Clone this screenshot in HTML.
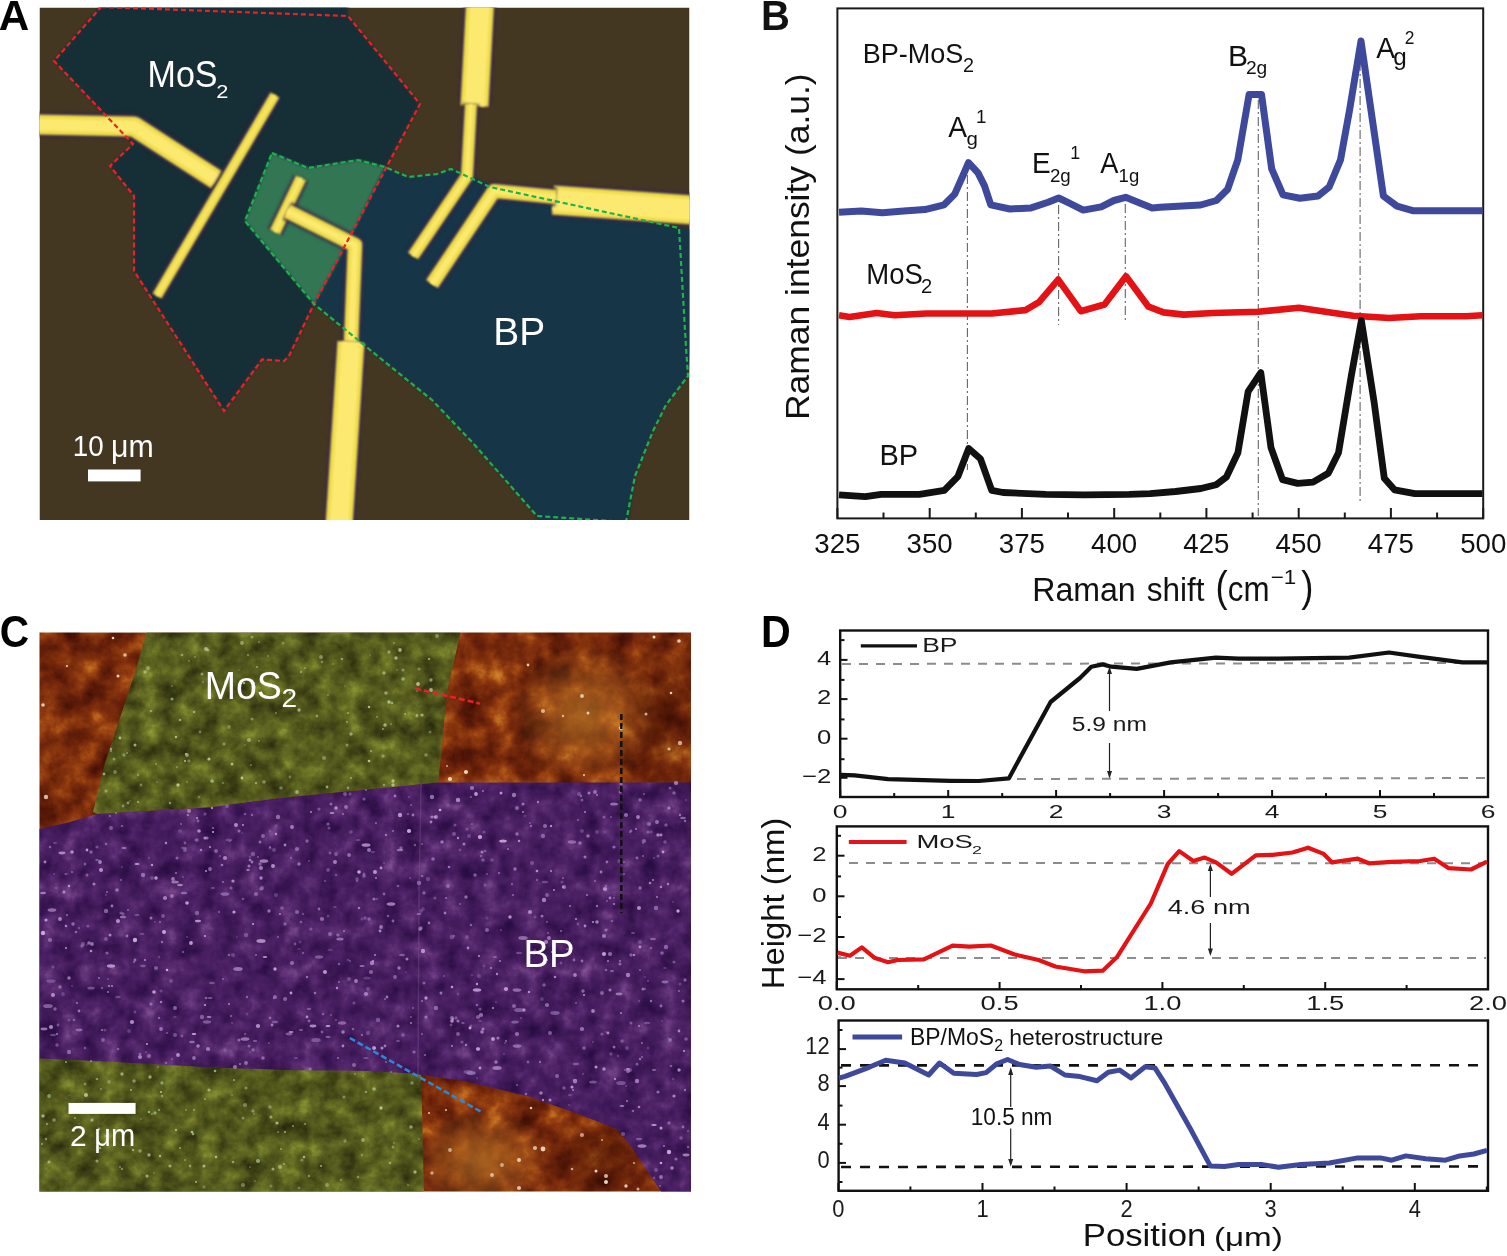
<!DOCTYPE html>
<html><head><meta charset="utf-8"><title>BP-MoS2 heterostructure figure</title>
<style>html,body{margin:0;padding:0;background:#fff;overflow:hidden;} svg{display:block;}</style></head>
<body><svg width="1507" height="1256" viewBox="0 0 1507 1256">
<defs><filter id="blur1" filterUnits="userSpaceOnUse" x="0" y="0" width="1507" height="1256"><feGaussianBlur stdDeviation="0.9"/></filter><filter id="blur2" filterUnits="userSpaceOnUse" x="0" y="0" width="1507" height="1256"><feGaussianBlur stdDeviation="1.8"/></filter><filter id="blurS" filterUnits="userSpaceOnUse" x="0" y="600" width="720" height="620"><feGaussianBlur stdDeviation="0.7"/></filter><filter id="texSub" filterUnits="userSpaceOnUse" x="0" y="600" width="720" height="620" color-interpolation-filters="sRGB"><feTurbulence type="fractalNoise" baseFrequency="0.035" numOctaves="5" seed="5"/><feColorMatrix type="matrix" values="1 0 0 0 0  1 0 0 0 0  1 0 0 0 0  0 0 0 0 1"/><feComponentTransfer><feFuncR type="table" tableValues="0.196 0.216 0.235 0.255 0.275 0.310 0.345 0.378 0.412 0.445 0.478 0.514 0.549 0.592 0.635 0.690 0.745 0.775 0.804 0.833 0.863"/><feFuncG type="table" tableValues="0.039 0.047 0.055 0.063 0.071 0.086 0.102 0.118 0.133 0.153 0.173 0.196 0.220 0.257 0.294 0.353 0.412 0.456 0.500 0.544 0.588"/><feFuncB type="table" tableValues="0.016 0.018 0.020 0.022 0.024 0.027 0.031 0.035 0.039 0.043 0.047 0.053 0.059 0.069 0.078 0.098 0.118 0.137 0.157 0.176 0.196"/></feComponentTransfer></filter><filter id="texMos" filterUnits="userSpaceOnUse" x="0" y="600" width="720" height="620" color-interpolation-filters="sRGB"><feTurbulence type="fractalNoise" baseFrequency="0.05" numOctaves="5" seed="11"/><feColorMatrix type="matrix" values="1 0 0 0 0  1 0 0 0 0  1 0 0 0 0  0 0 0 0 1"/><feComponentTransfer><feFuncR type="table" tableValues="0.118 0.137 0.157 0.176 0.196 0.220 0.243 0.265 0.286 0.308 0.329 0.351 0.373 0.398 0.424 0.457 0.490 0.525 0.559 0.593 0.627"/><feFuncG type="table" tableValues="0.125 0.147 0.169 0.190 0.212 0.235 0.259 0.282 0.306 0.329 0.353 0.376 0.400 0.427 0.455 0.492 0.529 0.569 0.608 0.647 0.686"/><feFuncB type="table" tableValues="0.039 0.046 0.053 0.060 0.067 0.075 0.082 0.090 0.098 0.106 0.114 0.122 0.129 0.139 0.149 0.163 0.176 0.196 0.216 0.235 0.255"/></feComponentTransfer></filter><filter id="texBP" filterUnits="userSpaceOnUse" x="0" y="600" width="720" height="620" color-interpolation-filters="sRGB"><feTurbulence type="fractalNoise" baseFrequency="0.05" numOctaves="5" seed="17"/><feColorMatrix type="matrix" values="1 0 0 0 0  1 0 0 0 0  1 0 0 0 0  0 0 0 0 1"/><feComponentTransfer><feFuncR type="table" tableValues="0.133 0.147 0.161 0.175 0.188 0.204 0.220 0.235 0.251 0.267 0.282 0.300 0.318 0.339 0.361 0.390 0.420 0.452 0.484 0.517 0.549"/><feFuncG type="table" tableValues="0.039 0.045 0.051 0.057 0.063 0.073 0.082 0.092 0.102 0.112 0.122 0.133 0.145 0.163 0.180 0.208 0.235 0.270 0.304 0.338 0.373"/><feFuncB type="table" tableValues="0.235 0.248 0.261 0.274 0.286 0.302 0.318 0.333 0.349 0.365 0.380 0.396 0.412 0.431 0.451 0.476 0.502 0.533 0.565 0.596 0.627"/></feComponentTransfer></filter></defs>
<clipPath id="clipA"><rect x="39.5" y="7.5" width="650" height="512.5"/></clipPath>
<g clip-path="url(#clipA)">
<rect x="39.5" y="7.5" width="650" height="512.5" fill="#443722"/>
<polygon points="101.0,5.0 348.0,5.0 348.0,16.0 420.0,104.0 376.0,185.0 333.0,270.0 314.0,304.0 289.0,356.0 284.0,361.0 262.0,359.0 224.0,411.0 134.0,271.0 134.0,196.0 110.0,166.0 133.0,144.0 54.0,61.0" fill="#192f34" filter="url(#blur2)"/>
<polygon points="272.0,153.0 308.0,168.0 358.0,160.0 385.0,167.0 408.0,177.0 437.0,174.0 451.0,169.0 493.0,185.0 540.0,196.0 679.0,228.0 692.0,228.0 692.0,347.0 688.0,376.0 666.0,405.0 653.0,431.0 635.0,476.0 628.0,524.0 537.0,524.0 537.0,516.0 472.0,442.0 432.0,400.0 380.0,358.0 314.0,304.0 245.0,221.0" fill="#183446" filter="url(#blur2)"/>
<polygon points="272.0,153.0 308.0,168.0 358.0,160.0 385.0,167.0 376.0,185.0 350.0,238.0 333.0,270.0 314.0,304.0 245.0,221.0" fill="#327652" filter="url(#blur2)"/>
<polyline points="36.0,124.5 134.0,126.5 217.0,180.0" fill="none" stroke="#382850" stroke-width="25" stroke-linejoin="round" opacity="0.85" filter="url(#blur2)"/><polyline points="36.0,124.5 134.0,126.5 217.0,180.0" fill="none" stroke="#eedc48" stroke-width="20" stroke-linejoin="round" filter="url(#blur1)"/><polyline points="36.0,124.5 134.0,126.5 217.0,180.0" fill="none" stroke="#fce970" stroke-width="12" stroke-linejoin="round" filter="url(#blur1)"/>
<polyline points="275.0,95.0 157.0,296.0" fill="none" stroke="#382850" stroke-width="15" stroke-linejoin="round" opacity="0.85" filter="url(#blur2)"/><polyline points="275.0,95.0 157.0,296.0" fill="none" stroke="#eedc48" stroke-width="10" stroke-linejoin="round" filter="url(#blur1)"/><polyline points="275.0,95.0 157.0,296.0" fill="none" stroke="#fce970" stroke-width="2" stroke-linejoin="round" filter="url(#blur1)"/>
<polyline points="480.0,4.0 474.5,106.0" fill="none" stroke="#382850" stroke-width="33" stroke-linejoin="round" opacity="0.85" filter="url(#blur2)"/><polyline points="480.0,4.0 474.5,106.0" fill="none" stroke="#eedc48" stroke-width="28" stroke-linejoin="round" filter="url(#blur1)"/><polyline points="480.0,4.0 474.5,106.0" fill="none" stroke="#fce970" stroke-width="20" stroke-linejoin="round" filter="url(#blur1)"/>
<polyline points="471.0,104.0 467.0,176.0 413.0,256.0" fill="none" stroke="#382850" stroke-width="17" stroke-linejoin="round" opacity="0.85" filter="url(#blur2)"/><polyline points="471.0,104.0 467.0,176.0 413.0,256.0" fill="none" stroke="#eedc48" stroke-width="12" stroke-linejoin="round" filter="url(#blur1)"/><polyline points="471.0,104.0 467.0,176.0 413.0,256.0" fill="none" stroke="#fce970" stroke-width="4" stroke-linejoin="round" filter="url(#blur1)"/>
<polyline points="553.0,200.0 694.0,210.0" fill="none" stroke="#382850" stroke-width="34" stroke-linejoin="round" opacity="0.85" filter="url(#blur2)"/><polyline points="553.0,200.0 694.0,210.0" fill="none" stroke="#eedc48" stroke-width="29" stroke-linejoin="round" filter="url(#blur1)"/><polyline points="553.0,200.0 694.0,210.0" fill="none" stroke="#fce970" stroke-width="21" stroke-linejoin="round" filter="url(#blur1)"/>
<polyline points="556.0,197.0 494.0,191.0 432.0,284.0" fill="none" stroke="#382850" stroke-width="19" stroke-linejoin="round" opacity="0.85" filter="url(#blur2)"/><polyline points="556.0,197.0 494.0,191.0 432.0,284.0" fill="none" stroke="#eedc48" stroke-width="14" stroke-linejoin="round" filter="url(#blur1)"/><polyline points="556.0,197.0 494.0,191.0 432.0,284.0" fill="none" stroke="#fce970" stroke-width="6" stroke-linejoin="round" filter="url(#blur1)"/>
<polyline points="301.0,178.0 275.0,232.0" fill="none" stroke="#382850" stroke-width="16" stroke-linejoin="round" opacity="0.85" filter="url(#blur2)"/><polyline points="301.0,178.0 275.0,232.0" fill="none" stroke="#eedc48" stroke-width="11" stroke-linejoin="round" filter="url(#blur1)"/><polyline points="301.0,178.0 275.0,232.0" fill="none" stroke="#fce970" stroke-width="3" stroke-linejoin="round" filter="url(#blur1)"/>
<polyline points="287.0,211.0 355.0,245.0 351.0,344.0" fill="none" stroke="#382850" stroke-width="19.5" stroke-linejoin="round" opacity="0.85" filter="url(#blur2)"/><polyline points="287.0,211.0 355.0,245.0 351.0,344.0" fill="none" stroke="#eedc48" stroke-width="14.5" stroke-linejoin="round" filter="url(#blur1)"/><polyline points="287.0,211.0 355.0,245.0 351.0,344.0" fill="none" stroke="#fce970" stroke-width="6.5" stroke-linejoin="round" filter="url(#blur1)"/>
<polyline points="351.0,342.0 339.0,526.0" fill="none" stroke="#382850" stroke-width="32" stroke-linejoin="round" opacity="0.85" filter="url(#blur2)"/><polyline points="351.0,342.0 339.0,526.0" fill="none" stroke="#eedc48" stroke-width="27" stroke-linejoin="round" filter="url(#blur1)"/><polyline points="351.0,342.0 339.0,526.0" fill="none" stroke="#fce970" stroke-width="19" stroke-linejoin="round" filter="url(#blur1)"/>
<polyline points="101.0,7.0 348.0,16.0 420.0,104.0 314.0,304.0 289.0,356.0 284.0,361.0 262.0,359.5 224.0,411.0 134.0,271.0 134.0,196.0 110.0,166.0 133.0,144.0 54.0,61.0 101.0,7.0" fill="none" stroke="#ee1f26" stroke-width="2.2" stroke-dasharray="5,3"/>
<polyline points="272.0,153.0 308.0,168.0 358.0,160.0 385.0,167.0 408.0,177.0 437.0,174.0 451.0,169.0 490.0,187.0 679.0,228.0 686.0,347.0 688.0,376.0 666.0,405.0 653.0,431.0 635.0,476.0 626.0,522.0 537.0,516.0 472.0,442.0 432.0,400.0 380.0,358.0 314.0,304.0 245.0,221.0 272.0,153.0" fill="none" stroke="#1db24a" stroke-width="2.2" stroke-dasharray="5,3"/>
</g>
<text transform="matrix(0.3404,0.0000,0.0000,0.3648,147.58,87.14)" font-family="'Liberation Sans', Arial, sans-serif" font-size="100" fill="#fff">MoS</text>
<text transform="matrix(0.2174,0.0000,0.0000,0.1743,216.21,98.10)" font-family="'Liberation Sans', Arial, sans-serif" font-size="100" fill="#fff">2</text>
<text transform="matrix(0.3892,0.0000,0.0000,0.3928,493.29,344.80)" font-family="'Liberation Sans', Arial, sans-serif" font-size="100" fill="#fff">BP</text>
<text transform="matrix(0.2778,0.0000,0.0000,0.2901,72.78,455.61)" font-family="'Liberation Sans', Arial, sans-serif" font-size="100" fill="#fff">10</text>
<text transform="matrix(0.3031,0.0000,0.0000,0.3096,110.98,456.62)" font-family="'Liberation Sans', Arial, sans-serif" font-size="100" fill="#fff">μm</text>
<rect x="88" y="469.5" width="52.6" height="11.9" fill="#fff"/>
<text transform="matrix(0.4227,0.0000,0.0000,0.4309,-1.27,30.03)" font-family="'Liberation Sans', Arial, sans-serif" font-weight="bold" font-size="100" fill="#000">A</text>
<rect x="837.4" y="8.4" width="645.8" height="510" fill="none" stroke="#1a1a1a" stroke-width="2"/>
<line x1="837.4" y1="518.4" x2="837.4" y2="508" stroke="#1a1a1a" stroke-width="2"/>
<text transform="matrix(0.2767,0,0,0.2690,837.40,553.13)" font-family="'Liberation Sans', Arial, sans-serif" font-size="100" text-anchor="middle" fill="#111">325</text>
<line x1="929.7" y1="518.4" x2="929.7" y2="508" stroke="#1a1a1a" stroke-width="2"/>
<text transform="matrix(0.2767,0,0,0.2690,929.66,553.13)" font-family="'Liberation Sans', Arial, sans-serif" font-size="100" text-anchor="middle" fill="#111">350</text>
<line x1="1021.9" y1="518.4" x2="1021.9" y2="508" stroke="#1a1a1a" stroke-width="2"/>
<text transform="matrix(0.2767,0,0,0.2690,1021.91,553.13)" font-family="'Liberation Sans', Arial, sans-serif" font-size="100" text-anchor="middle" fill="#111">375</text>
<line x1="1114.2" y1="518.4" x2="1114.2" y2="508" stroke="#1a1a1a" stroke-width="2"/>
<text transform="matrix(0.2767,0,0,0.2690,1114.17,553.13)" font-family="'Liberation Sans', Arial, sans-serif" font-size="100" text-anchor="middle" fill="#111">400</text>
<line x1="1206.4" y1="518.4" x2="1206.4" y2="508" stroke="#1a1a1a" stroke-width="2"/>
<text transform="matrix(0.2767,0,0,0.2690,1206.43,553.13)" font-family="'Liberation Sans', Arial, sans-serif" font-size="100" text-anchor="middle" fill="#111">425</text>
<line x1="1298.7" y1="518.4" x2="1298.7" y2="508" stroke="#1a1a1a" stroke-width="2"/>
<text transform="matrix(0.2767,0,0,0.2690,1298.69,553.13)" font-family="'Liberation Sans', Arial, sans-serif" font-size="100" text-anchor="middle" fill="#111">450</text>
<line x1="1390.9" y1="518.4" x2="1390.9" y2="508" stroke="#1a1a1a" stroke-width="2"/>
<text transform="matrix(0.2767,0,0,0.2690,1390.94,553.13)" font-family="'Liberation Sans', Arial, sans-serif" font-size="100" text-anchor="middle" fill="#111">475</text>
<line x1="1483.2" y1="518.4" x2="1483.2" y2="508" stroke="#1a1a1a" stroke-width="2"/>
<text transform="matrix(0.2767,0,0,0.2690,1483.20,553.13)" font-family="'Liberation Sans', Arial, sans-serif" font-size="100" text-anchor="middle" fill="#111">500</text>
<line x1="883.5" y1="518.4" x2="883.5" y2="512.5" stroke="#1a1a1a" stroke-width="2"/>
<line x1="975.8" y1="518.4" x2="975.8" y2="512.5" stroke="#1a1a1a" stroke-width="2"/>
<line x1="1068.0" y1="518.4" x2="1068.0" y2="512.5" stroke="#1a1a1a" stroke-width="2"/>
<line x1="1160.3" y1="518.4" x2="1160.3" y2="512.5" stroke="#1a1a1a" stroke-width="2"/>
<line x1="1252.6" y1="518.4" x2="1252.6" y2="512.5" stroke="#1a1a1a" stroke-width="2"/>
<line x1="1344.8" y1="518.4" x2="1344.8" y2="512.5" stroke="#1a1a1a" stroke-width="2"/>
<line x1="1437.1" y1="518.4" x2="1437.1" y2="512.5" stroke="#1a1a1a" stroke-width="2"/>
<line x1="967.4" y1="175" x2="967.4" y2="470" stroke="#666" stroke-width="1.1" stroke-dasharray="9,3,2,3"/>
<line x1="1058.6" y1="205" x2="1058.6" y2="325" stroke="#666" stroke-width="1.1" stroke-dasharray="9,3,2,3"/>
<line x1="1125.3" y1="204" x2="1125.3" y2="321" stroke="#666" stroke-width="1.1" stroke-dasharray="9,3,2,3"/>
<line x1="1258.3" y1="100" x2="1258.3" y2="516" stroke="#666" stroke-width="1.1" stroke-dasharray="9,3,2,3"/>
<line x1="1360.1" y1="45" x2="1360.1" y2="504" stroke="#666" stroke-width="1.1" stroke-dasharray="9,3,2,3"/>
<polyline points="839.0,315.3 849.5,316.9 876.6,313.0 894.7,315.3 926.3,313.5 991.7,313.5 1025.5,310.1 1039.0,302.2 1058.2,279.6 1080.8,311.2 1104.5,304.5 1126.0,276.3 1148.5,306.7 1163.5,312.4 1183.8,314.6 1213.2,313.0 1258.3,311.7 1298.9,307.8 1330.5,312.4 1353.1,315.7 1389.2,318.0 1420.8,316.2 1465.9,316.2 1482.5,315.3" fill="none" stroke="#e41214" stroke-width="6.6" stroke-linejoin="round"/>
<polyline points="839.0,494.8 865.3,496.6 881.1,494.3 919.5,494.3 944.3,490.3 957.8,476.7 968.7,448.5 980.4,458.7 991.7,490.3 1003.0,492.5 1045.8,494.3 1084.2,494.8 1129.3,494.3 1150.0,493.6 1175.5,491.5 1200.9,488.5 1216.2,484.7 1226.4,477.0 1237.9,452.8 1248.1,391.7 1260.8,372.6 1271.0,447.7 1282.5,479.6 1297.7,483.4 1313.0,482.1 1328.3,473.2 1338.5,452.8 1351.2,376.4 1361.4,320.4 1374.1,401.9 1384.3,478.3 1394.5,489.8 1414.9,493.6 1482.5,493.6" fill="none" stroke="#111" stroke-width="6.8" stroke-linejoin="round"/>
<polyline points="839.0,212.2 861.2,211.1 882.5,212.8 903.7,211.1 924.9,209.6 944.1,204.8 954.7,194.1 963.2,175.0 968.5,162.7 978.0,172.9 984.4,185.6 990.8,204.8 1009.9,209.0 1031.1,207.9 1048.1,202.2 1058.7,198.0 1069.3,203.1 1083.2,210.1 1101.2,206.9 1113.9,200.5 1125.6,197.3 1141.6,203.7 1152.2,207.9 1160.0,207.3 1200.6,205.0 1216.4,200.5 1227.7,189.2 1237.8,159.9 1249.1,94.5 1261.5,94.5 1271.7,168.9 1283.0,194.9 1299.9,198.2 1318.0,196.0 1329.2,187.0 1340.5,159.9 1349.5,110.3 1361.0,41.0 1371.0,110.3 1383.4,196.0 1397.0,206.1 1412.7,210.7 1482.5,210.7" fill="none" stroke="#3e499c" stroke-width="7" stroke-linejoin="round"/>
<text transform="matrix(0.2708,0.0000,0.0000,0.2845,862.63,62.52)" font-family="'Liberation Sans', Arial, sans-serif" font-size="100" fill="#111">BP-MoS</text>
<text transform="matrix(0.1978,0.0000,0.0000,0.1929,962.91,71.60)" font-family="'Liberation Sans', Arial, sans-serif" font-size="100" fill="#111">2</text>
<text transform="matrix(0.2818,0.0000,0.0000,0.2884,948.30,136.80)" font-family="'Liberation Sans', Arial, sans-serif" font-size="100" fill="#111">A</text>
<text transform="matrix(0.2044,0.0000,0.0000,0.1784,966.38,145.35)" font-family="'Liberation Sans', Arial, sans-serif" font-size="100" fill="#111">g</text>
<text transform="matrix(0.2796,0.0000,0.0000,0.2942,1031.96,173.00)" font-family="'Liberation Sans', Arial, sans-serif" font-size="100" fill="#111">E</text>
<text transform="matrix(0.1870,0.0000,0.0000,0.1879,1049.97,181.85)" font-family="'Liberation Sans', Arial, sans-serif" font-size="100" fill="#111">2g</text>
<text transform="matrix(0.2727,0.0000,0.0000,0.2884,1100.20,173.00)" font-family="'Liberation Sans', Arial, sans-serif" font-size="100" fill="#111">A</text>
<text transform="matrix(0.1856,0.0000,0.0000,0.1811,1118.62,182.00)" font-family="'Liberation Sans', Arial, sans-serif" font-size="100" fill="#111">1g</text>
<text transform="matrix(0.3000,0.0000,0.0000,0.2884,1227.90,65.50)" font-family="'Liberation Sans', Arial, sans-serif" font-size="100" fill="#111">B</text>
<text transform="matrix(0.1920,0.0000,0.0000,0.1901,1245.94,74.11)" font-family="'Liberation Sans', Arial, sans-serif" font-size="100" fill="#111">2g</text>
<text transform="matrix(0.2818,0.0000,0.0000,0.2884,1376.30,57.50)" font-family="'Liberation Sans', Arial, sans-serif" font-size="100" fill="#111">A</text>
<text transform="matrix(0.1739,0.0000,0.0000,0.1800,1404.63,44.20)" font-family="'Liberation Sans', Arial, sans-serif" font-size="100" fill="#111">2</text>
<text transform="matrix(0.2751,0.0000,0.0000,0.2873,866.30,283.61)" font-family="'Liberation Sans', Arial, sans-serif" font-size="100" fill="#111">MoS</text>
<text transform="matrix(0.2022,0.0000,0.0000,0.2000,921.09,293.20)" font-family="'Liberation Sans', Arial, sans-serif" font-size="100" fill="#111">2</text>
<text transform="matrix(0.2900,0.0000,0.0000,0.2971,879.48,464.50)" font-family="'Liberation Sans', Arial, sans-serif" font-size="100" fill="#111">BP</text>
<text transform="matrix(0.3211,0.0000,0.0000,0.3243,1032.23,600.98)" font-family="'Liberation Sans', Arial, sans-serif" font-size="100" fill="#111">Raman</text>
<text transform="matrix(0.3150,0.0000,0.0000,0.3284,1146.76,600.97)" font-family="'Liberation Sans', Arial, sans-serif" font-size="100" fill="#111">shift</text>
<text transform="matrix(0.3654,0.0000,0.0000,0.4234,1215.41,600.91)" font-family="'Liberation Sans', Arial, sans-serif" font-size="100" fill="#111">(</text>
<text transform="matrix(0.3130,0.0000,0.0000,0.3509,1227.75,600.95)" font-family="'Liberation Sans', Arial, sans-serif" font-size="100" fill="#111">cm</text>
<text transform="matrix(0.2240,0.0000,0.0000,0.2014,1270.78,583.90)" font-family="'Liberation Sans', Arial, sans-serif" font-size="100" fill="#111">−1</text>
<text transform="matrix(0.3654,0.0000,0.0000,0.4234,1301.13,600.91)" font-family="'Liberation Sans', Arial, sans-serif" font-size="100" fill="#111">)</text>
<text transform="matrix(0.0000,-0.3544,0.3319,0.0000,808.73,420.03)" font-family="'Liberation Sans', Arial, sans-serif" font-size="100" fill="#111">Raman intensity (a.u.)</text>
<text transform="matrix(0.4000,0.0000,0.0000,0.4246,761.10,29.60)" font-family="'Liberation Sans', Arial, sans-serif" font-weight="bold" font-size="100" fill="#111">B</text>
<text transform="matrix(0.1870,0.0000,0.0000,0.1870,975.88,122.80)" font-family="'Liberation Sans', Arial, sans-serif" font-size="100" fill="#111">1</text>
<text transform="matrix(0.1783,0.0000,0.0000,0.1783,1070.14,159.10)" font-family="'Liberation Sans', Arial, sans-serif" font-size="100" fill="#111">1</text>
<text transform="matrix(0.2419,0.0000,0.0000,0.2419,1393.14,65.02)" font-family="'Liberation Sans', Arial, sans-serif" font-size="100" fill="#111">g</text>
<clipPath id="clipC"><rect x="39.5" y="632.5" width="651.5" height="559"/></clipPath>
<g clip-path="url(#clipC)">
<rect x="39.5" y="632.5" width="651.5" height="559" fill="#7a2e10" filter="url(#texSub)"/>
<radialGradient id="glow1"><stop offset="0" stop-color="#d09030" stop-opacity="0.55"/><stop offset="1" stop-color="#d09030" stop-opacity="0"/></radialGradient>
<radialGradient id="dark1"><stop offset="0" stop-color="#300800" stop-opacity="0.45"/><stop offset="1" stop-color="#300800" stop-opacity="0"/></radialGradient>
<ellipse cx="585" cy="715" rx="75" ry="70" fill="url(#glow1)"/>
<ellipse cx="480" cy="1160" rx="70" ry="55" fill="url(#glow1)"/>
<ellipse cx="660" cy="720" rx="40" ry="80" fill="url(#dark1)"/>
<ellipse cx="600" cy="1160" rx="50" ry="40" fill="url(#dark1)"/>
<clipPath id="cMos"><polygon points="147.3,630.0 461.0,630.0 447.5,689.7 442.9,736.1 438.2,782.6 370.0,789.2 278.2,798.2 210.5,807.3 97.7,814.0 93.0,812.0 104.5,764.4 120.3,717.0 136.0,669.6"/><polygon points="36.0,1058.0 421.0,1070.0 424.0,1195.0 36.0,1195.0"/></clipPath>
<g clip-path="url(#cMos)"><rect x="39.5" y="632.5" width="651.5" height="559" fill="#50551e" filter="url(#texMos)"/></g>
<clipPath id="cBP"><polygon points="36.0,829.8 66.1,823.0 97.7,814.0 210.5,807.3 278.2,798.2 370.0,789.2 438.2,782.6 695.0,782.6 695.0,1195.0 663.3,1195.0 630.2,1144.9 617.4,1129.6 579.2,1114.3 528.3,1096.5 464.6,1081.2 411.1,1073.6 370.0,1071.1 284.8,1069.9 208.4,1067.3 106.5,1061.4 36.0,1058.4"/></clipPath>
<g clip-path="url(#cBP)"><rect x="39.5" y="632.5" width="651.5" height="559" fill="#4a2a78" filter="url(#texBP)"/></g>
<g filter="url(#blurS)"><circle cx="252" cy="719" r="1.5" fill="#d0e0b0" opacity="0.44"/><circle cx="419" cy="1139" r="1.0" fill="#a8c890" opacity="0.43"/><circle cx="101" cy="870" r="2.0" fill="#c8a0dc" opacity="0.87"/><circle cx="419" cy="669" r="1.5" fill="#c0d8a0" opacity="0.42"/><circle cx="597" cy="795" r="1.0" fill="#c8a0dc" opacity="0.69"/><circle cx="105" cy="1030" r="1.6" fill="#9070b0" opacity="0.50"/><circle cx="319" cy="809" r="1.6" fill="#a080c0" opacity="0.58"/><circle cx="158" cy="1067" r="0.8" fill="#a8c890" opacity="0.75"/><circle cx="514" cy="795" r="2.2" fill="#c8a0dc" opacity="0.66"/><circle cx="92" cy="944" r="1.9" fill="#d8b8e8" opacity="0.57"/><circle cx="363" cy="1076" r="0.8" fill="#a8c890" opacity="0.59"/><circle cx="685" cy="1090" r="1.2" fill="#a080c0" opacity="0.84"/><circle cx="651" cy="832" r="1.7" fill="#a080c0" opacity="0.43"/><circle cx="94" cy="884" r="1.6" fill="#b890d0" opacity="0.81"/><circle cx="222" cy="865" r="1.3" fill="#a080c0" opacity="0.88"/><circle cx="156" cy="764" r="1.0" fill="#d0e0b0" opacity="0.47"/><circle cx="466" cy="1045" r="1.4" fill="#9070b0" opacity="0.60"/><circle cx="109" cy="986" r="0.9" fill="#c8a0dc" opacity="0.89"/><ellipse cx="113" cy="968" rx="2.1" ry="0.8" fill="#9070b0" opacity="0.48"/><circle cx="138" cy="775" r="1.2" fill="#c0d8a0" opacity="0.45"/><circle cx="358" cy="1177" r="1.3" fill="#c0d8a0" opacity="0.44"/><circle cx="264" cy="782" r="1.8" fill="#c0d8a0" opacity="0.48"/><circle cx="658" cy="835" r="1.8" fill="#c8a0dc" opacity="0.78"/><circle cx="630" cy="832" r="1.1" fill="#9070b0" opacity="0.79"/><circle cx="564" cy="1088" r="1.8" fill="#b890d0" opacity="0.50"/><circle cx="167" cy="970" r="1.3" fill="#d8b8e8" opacity="0.88"/><circle cx="185" cy="761" r="1.0" fill="#d0e0b0" opacity="0.79"/><circle cx="437" cy="636" r="1.9" fill="#d0e0b0" opacity="0.43"/><circle cx="351" cy="734" r="1.7" fill="#d0e0b0" opacity="0.56"/><circle cx="302" cy="1160" r="1.6" fill="#c0d8a0" opacity="0.41"/><circle cx="424" cy="893" r="1.7" fill="#9070b0" opacity="0.81"/><circle cx="467" cy="829" r="1.6" fill="#b890d0" opacity="0.41"/><circle cx="680" cy="743" r="2.2" fill="#f8e8d0" opacity="0.67"/><ellipse cx="366" cy="1058" rx="2.8" ry="1.1" fill="#9070b0" opacity="0.61"/><circle cx="631" cy="831" r="1.4" fill="#9070b0" opacity="0.81"/><circle cx="354" cy="1065" r="2.0" fill="#c8a0dc" opacity="0.52"/><circle cx="542" cy="916" r="1.6" fill="#c8a0dc" opacity="0.62"/><circle cx="369" cy="919" r="1.8" fill="#a080c0" opacity="0.65"/><ellipse cx="642" cy="1146" rx="4.5" ry="1.8" fill="#b890d0" opacity="0.82"/><circle cx="121" cy="880" r="0.9" fill="#b890d0" opacity="0.61"/><circle cx="458" cy="838" r="1.2" fill="#b890d0" opacity="0.88"/><circle cx="658" cy="856" r="1.5" fill="#b890d0" opacity="0.48"/><circle cx="376" cy="823" r="1.1" fill="#d8b8e8" opacity="0.45"/><circle cx="261" cy="889" r="1.8" fill="#a080c0" opacity="0.57"/><circle cx="671" cy="693" r="1.3" fill="#f8e8d0" opacity="0.87"/><circle cx="411" cy="1023" r="0.9" fill="#c8a0dc" opacity="0.80"/><ellipse cx="621" cy="784" rx="1.8" ry="0.7" fill="#c8a0dc" opacity="0.80"/><ellipse cx="261" cy="941" rx="4.6" ry="1.9" fill="#d8b8e8" opacity="0.71"/><ellipse cx="175" cy="882" rx="3.8" ry="1.6" fill="#d8b8e8" opacity="0.57"/><circle cx="165" cy="898" r="2.1" fill="#c8a0dc" opacity="0.73"/><circle cx="467" cy="937" r="2.0" fill="#9070b0" opacity="0.55"/><ellipse cx="51" cy="981" rx="4.5" ry="1.8" fill="#a080c0" opacity="0.48"/><circle cx="199" cy="797" r="1.3" fill="#a8c890" opacity="0.40"/><circle cx="278" cy="817" r="2.2" fill="#d8b8e8" opacity="0.52"/><circle cx="242" cy="833" r="0.8" fill="#a080c0" opacity="0.44"/><circle cx="466" cy="772" r="2.1" fill="#f8e8d0" opacity="0.89"/><circle cx="135" cy="960" r="1.4" fill="#d8b8e8" opacity="0.55"/><circle cx="421" cy="928" r="1.9" fill="#9070b0" opacity="0.59"/><circle cx="517" cy="1085" r="1.0" fill="#9070b0" opacity="0.78"/><circle cx="502" cy="1165" r="1.9" fill="#f8e8d0" opacity="0.61"/><ellipse cx="213" cy="888" rx="2.0" ry="0.8" fill="#9070b0" opacity="0.85"/><circle cx="382" cy="1048" r="1.5" fill="#c8a0dc" opacity="0.82"/><circle cx="72" cy="986" r="1.1" fill="#9070b0" opacity="0.47"/><circle cx="523" cy="804" r="1.6" fill="#c8a0dc" opacity="0.64"/><circle cx="501" cy="793" r="1.5" fill="#c8a0dc" opacity="0.90"/><circle cx="244" cy="683" r="1.3" fill="#c0d8a0" opacity="0.73"/><circle cx="668" cy="884" r="1.2" fill="#b890d0" opacity="0.86"/><circle cx="275" cy="969" r="1.7" fill="#d8b8e8" opacity="0.84"/><circle cx="192" cy="1132" r="1.3" fill="#c0d8a0" opacity="0.78"/><circle cx="483" cy="860" r="1.8" fill="#a080c0" opacity="0.57"/><circle cx="230" cy="841" r="1.4" fill="#9070b0" opacity="0.44"/><circle cx="531" cy="1108" r="1.3" fill="#f8e8d0" opacity="0.83"/><circle cx="246" cy="1063" r="1.9" fill="#a080c0" opacity="0.84"/><circle cx="529" cy="992" r="1.2" fill="#c8a0dc" opacity="0.86"/><circle cx="152" cy="865" r="1.2" fill="#d8b8e8" opacity="0.77"/><ellipse cx="210" cy="998" rx="2.7" ry="1.1" fill="#9070b0" opacity="0.73"/><circle cx="398" cy="886" r="1.3" fill="#a080c0" opacity="0.61"/><circle cx="200" cy="732" r="1.4" fill="#a8c890" opacity="0.50"/><circle cx="411" cy="1127" r="1.7" fill="#a8c890" opacity="0.70"/><circle cx="178" cy="785" r="1.7" fill="#d0e0b0" opacity="0.79"/><circle cx="123" cy="914" r="1.7" fill="#b890d0" opacity="0.45"/><circle cx="291" cy="993" r="1.4" fill="#d8b8e8" opacity="0.82"/><circle cx="348" cy="960" r="0.8" fill="#a080c0" opacity="0.87"/><circle cx="384" cy="894" r="1.4" fill="#c8a0dc" opacity="0.51"/><circle cx="43" cy="705" r="1.8" fill="#f8e8d0" opacity="0.85"/><ellipse cx="665" cy="982" rx="3.4" ry="1.4" fill="#a080c0" opacity="0.75"/><circle cx="88" cy="926" r="1.6" fill="#a080c0" opacity="0.53"/><circle cx="43" cy="933" r="2.2" fill="#d8b8e8" opacity="0.88"/><circle cx="614" cy="898" r="1.1" fill="#b890d0" opacity="0.41"/><circle cx="282" cy="908" r="1.8" fill="#a080c0" opacity="0.58"/><circle cx="46" cy="797" r="2.2" fill="#f8e8d0" opacity="0.77"/><circle cx="172" cy="1059" r="1.1" fill="#a080c0" opacity="0.51"/><circle cx="233" cy="1162" r="1.3" fill="#c0d8a0" opacity="0.59"/><circle cx="245" cy="698" r="0.8" fill="#c0d8a0" opacity="0.47"/><circle cx="648" cy="1048" r="0.8" fill="#a080c0" opacity="0.82"/><circle cx="328" cy="695" r="0.8" fill="#a8c890" opacity="0.78"/><circle cx="122" cy="1169" r="1.0" fill="#a8c890" opacity="0.73"/><circle cx="322" cy="662" r="1.3" fill="#a8c890" opacity="0.48"/><circle cx="278" cy="1132" r="0.8" fill="#d0e0b0" opacity="0.71"/><circle cx="208" cy="1049" r="2.1" fill="#d8b8e8" opacity="0.58"/><circle cx="640" cy="800" r="1.8" fill="#9070b0" opacity="0.86"/><circle cx="661" cy="1163" r="1.3" fill="#d8b8e8" opacity="0.86"/><circle cx="128" cy="910" r="0.8" fill="#d8b8e8" opacity="0.81"/><circle cx="435" cy="817" r="1.2" fill="#d8b8e8" opacity="0.79"/><ellipse cx="373" cy="852" rx="2.3" ry="0.9" fill="#a080c0" opacity="0.43"/><circle cx="400" cy="815" r="2.2" fill="#c8a0dc" opacity="0.89"/><circle cx="478" cy="1049" r="2.0" fill="#c8a0dc" opacity="0.79"/><circle cx="223" cy="783" r="1.0" fill="#a8c890" opacity="0.50"/><circle cx="253" cy="854" r="2.2" fill="#9070b0" opacity="0.66"/><circle cx="107" cy="892" r="0.9" fill="#c8a0dc" opacity="0.64"/><circle cx="644" cy="841" r="2.0" fill="#a080c0" opacity="0.70"/><circle cx="268" cy="656" r="1.1" fill="#a8c890" opacity="0.42"/><circle cx="307" cy="841" r="1.7" fill="#c8a0dc" opacity="0.50"/><circle cx="397" cy="670" r="0.8" fill="#d0e0b0" opacity="0.46"/><circle cx="387" cy="997" r="1.4" fill="#d8b8e8" opacity="0.60"/><circle cx="273" cy="866" r="2.0" fill="#d8b8e8" opacity="0.72"/><circle cx="304" cy="1157" r="1.3" fill="#c0d8a0" opacity="0.73"/><circle cx="305" cy="1124" r="1.3" fill="#c0d8a0" opacity="0.42"/><circle cx="642" cy="1043" r="1.0" fill="#d8b8e8" opacity="0.54"/><circle cx="673" cy="902" r="0.9" fill="#a080c0" opacity="0.44"/><circle cx="444" cy="976" r="1.1" fill="#a080c0" opacity="0.49"/><circle cx="301" cy="922" r="1.3" fill="#c8a0dc" opacity="0.47"/><circle cx="477" cy="1005" r="1.3" fill="#a080c0" opacity="0.70"/><circle cx="448" cy="805" r="1.4" fill="#9070b0" opacity="0.52"/><circle cx="280" cy="914" r="1.1" fill="#c8a0dc" opacity="0.71"/><circle cx="194" cy="1058" r="1.9" fill="#a080c0" opacity="0.82"/><circle cx="301" cy="672" r="1.2" fill="#a8c890" opacity="0.60"/><circle cx="245" cy="1034" r="0.9" fill="#9070b0" opacity="0.85"/><circle cx="205" cy="814" r="1.7" fill="#a080c0" opacity="0.47"/><circle cx="248" cy="655" r="0.9" fill="#a8c890" opacity="0.67"/><circle cx="621" cy="728" r="2.1" fill="#f8e8d0" opacity="0.79"/><circle cx="454" cy="834" r="2.0" fill="#9070b0" opacity="0.66"/><circle cx="519" cy="841" r="1.3" fill="#d8b8e8" opacity="0.69"/><circle cx="537" cy="880" r="1.0" fill="#c8a0dc" opacity="0.55"/><circle cx="622" cy="1041" r="1.8" fill="#b890d0" opacity="0.47"/><circle cx="322" cy="919" r="2.1" fill="#b890d0" opacity="0.64"/><circle cx="380" cy="931" r="1.4" fill="#d8b8e8" opacity="0.69"/><circle cx="446" cy="898" r="1.0" fill="#b890d0" opacity="0.75"/><circle cx="620" cy="964" r="1.6" fill="#9070b0" opacity="0.87"/><circle cx="50" cy="940" r="2.1" fill="#b890d0" opacity="0.61"/><circle cx="458" cy="994" r="1.4" fill="#9070b0" opacity="0.49"/><circle cx="343" cy="1046" r="1.4" fill="#b890d0" opacity="0.90"/><circle cx="481" cy="1015" r="2.1" fill="#d8b8e8" opacity="0.55"/><circle cx="627" cy="1101" r="1.1" fill="#b890d0" opacity="0.77"/><circle cx="611" cy="817" r="1.1" fill="#9070b0" opacity="0.63"/><circle cx="411" cy="805" r="1.1" fill="#9070b0" opacity="0.69"/><circle cx="147" cy="1176" r="1.6" fill="#c0d8a0" opacity="0.68"/><circle cx="452" cy="1021" r="1.8" fill="#c8a0dc" opacity="0.83"/><circle cx="611" cy="1054" r="1.8" fill="#a080c0" opacity="0.45"/><ellipse cx="248" cy="870" rx="1.8" ry="0.7" fill="#d8b8e8" opacity="0.87"/><circle cx="350" cy="794" r="1.8" fill="#a080c0" opacity="0.42"/><circle cx="106" cy="895" r="0.9" fill="#9070b0" opacity="0.51"/><circle cx="101" cy="1089" r="0.9" fill="#c0d8a0" opacity="0.52"/><circle cx="528" cy="665" r="1.4" fill="#f8e8d0" opacity="0.84"/><circle cx="375" cy="955" r="1.0" fill="#b890d0" opacity="0.87"/><circle cx="149" cy="1155" r="1.7" fill="#d0e0b0" opacity="0.62"/><circle cx="110" cy="816" r="0.9" fill="#a080c0" opacity="0.85"/><circle cx="315" cy="993" r="1.3" fill="#d8b8e8" opacity="0.53"/><ellipse cx="366" cy="845" rx="4.5" ry="1.8" fill="#b890d0" opacity="0.87"/><circle cx="426" cy="1017" r="1.6" fill="#c8a0dc" opacity="0.57"/><circle cx="152" cy="878" r="1.9" fill="#9070b0" opacity="0.52"/><circle cx="458" cy="1021" r="1.5" fill="#d8b8e8" opacity="0.55"/><circle cx="253" cy="924" r="1.0" fill="#d8b8e8" opacity="0.88"/><circle cx="660" cy="1186" r="1.0" fill="#c8a0dc" opacity="0.50"/><circle cx="138" cy="802" r="1.1" fill="#c0d8a0" opacity="0.66"/><circle cx="111" cy="749" r="1.2" fill="#a8c890" opacity="0.74"/><circle cx="324" cy="758" r="2.0" fill="#c0d8a0" opacity="0.46"/><circle cx="433" cy="859" r="1.8" fill="#a080c0" opacity="0.75"/><circle cx="610" cy="990" r="1.6" fill="#b890d0" opacity="0.74"/><circle cx="336" cy="808" r="1.7" fill="#c8a0dc" opacity="0.85"/><ellipse cx="301" cy="1030" rx="2.2" ry="0.9" fill="#a080c0" opacity="0.64"/><circle cx="597" cy="922" r="1.7" fill="#b890d0" opacity="0.85"/><circle cx="49" cy="1096" r="1.9" fill="#a8c890" opacity="0.62"/><circle cx="107" cy="953" r="1.6" fill="#a080c0" opacity="0.66"/><circle cx="578" cy="924" r="1.4" fill="#a080c0" opacity="0.51"/><ellipse cx="296" cy="1058" rx="2.1" ry="0.9" fill="#9070b0" opacity="0.58"/><circle cx="220" cy="856" r="0.8" fill="#a080c0" opacity="0.86"/><circle cx="479" cy="956" r="1.0" fill="#d8b8e8" opacity="0.77"/><circle cx="383" cy="756" r="1.7" fill="#c0d8a0" opacity="0.47"/><circle cx="458" cy="1034" r="1.9" fill="#b890d0" opacity="0.58"/><circle cx="572" cy="1087" r="1.5" fill="#d8b8e8" opacity="0.78"/><circle cx="547" cy="895" r="1.9" fill="#b890d0" opacity="0.53"/><circle cx="206" cy="871" r="1.1" fill="#c8a0dc" opacity="0.80"/><circle cx="274" cy="998" r="1.2" fill="#a080c0" opacity="0.61"/><circle cx="469" cy="836" r="2.1" fill="#a080c0" opacity="0.43"/><ellipse cx="628" cy="1069" rx="2.2" ry="0.9" fill="#d8b8e8" opacity="0.72"/><circle cx="49" cy="1162" r="1.5" fill="#c0d8a0" opacity="0.63"/><circle cx="177" cy="858" r="1.5" fill="#9070b0" opacity="0.85"/><circle cx="547" cy="1005" r="2.1" fill="#d8b8e8" opacity="0.50"/><circle cx="385" cy="1046" r="1.4" fill="#c8a0dc" opacity="0.68"/><circle cx="194" cy="712" r="1.3" fill="#a8c890" opacity="0.76"/><circle cx="364" cy="799" r="1.5" fill="#a080c0" opacity="0.61"/><ellipse cx="91" cy="988" rx="3.7" ry="1.5" fill="#c8a0dc" opacity="0.41"/><circle cx="519" cy="1188" r="2.1" fill="#f8e8d0" opacity="0.77"/><circle cx="546" cy="942" r="2.1" fill="#d8b8e8" opacity="0.62"/><circle cx="303" cy="914" r="1.2" fill="#9070b0" opacity="0.57"/><circle cx="300" cy="942" r="1.4" fill="#9070b0" opacity="0.42"/><ellipse cx="468" cy="1072" rx="4.6" ry="1.9" fill="#9070b0" opacity="0.59"/><circle cx="478" cy="1017" r="2.0" fill="#c8a0dc" opacity="0.51"/><circle cx="338" cy="1058" r="0.9" fill="#b890d0" opacity="0.83"/><ellipse cx="576" cy="1064" rx="3.1" ry="1.3" fill="#a080c0" opacity="0.62"/><circle cx="292" cy="963" r="2.1" fill="#b890d0" opacity="0.64"/><circle cx="108" cy="992" r="1.1" fill="#b890d0" opacity="0.71"/><ellipse cx="48" cy="1006" rx="4.8" ry="2.0" fill="#c8a0dc" opacity="0.51"/><circle cx="348" cy="788" r="1.4" fill="#d0e0b0" opacity="0.47"/><circle cx="149" cy="1112" r="1.3" fill="#a8c890" opacity="0.78"/><circle cx="513" cy="895" r="1.0" fill="#c8a0dc" opacity="0.58"/><circle cx="449" cy="867" r="1.3" fill="#a080c0" opacity="0.87"/><circle cx="409" cy="797" r="0.9" fill="#9070b0" opacity="0.57"/><circle cx="674" cy="1096" r="1.6" fill="#d8b8e8" opacity="0.69"/><circle cx="201" cy="850" r="1.3" fill="#b890d0" opacity="0.80"/><ellipse cx="593" cy="1082" rx="3.9" ry="1.6" fill="#a080c0" opacity="0.57"/><circle cx="554" cy="890" r="0.9" fill="#d8b8e8" opacity="0.79"/><circle cx="350" cy="961" r="1.1" fill="#b890d0" opacity="0.45"/><circle cx="229" cy="955" r="1.3" fill="#9070b0" opacity="0.83"/><circle cx="639" cy="908" r="2.0" fill="#d8b8e8" opacity="0.72"/><ellipse cx="143" cy="966" rx="2.8" ry="1.2" fill="#9070b0" opacity="0.70"/><circle cx="180" cy="1148" r="1.1" fill="#a8c890" opacity="0.71"/><circle cx="572" cy="1169" r="1.3" fill="#f8e8d0" opacity="0.67"/><circle cx="605" cy="889" r="2.1" fill="#c8a0dc" opacity="0.83"/><circle cx="639" cy="1026" r="0.9" fill="#d8b8e8" opacity="0.68"/><circle cx="661" cy="1006" r="1.4" fill="#a080c0" opacity="0.82"/><ellipse cx="194" cy="1034" rx="2.3" ry="0.9" fill="#d8b8e8" opacity="0.87"/><circle cx="400" cy="650" r="1.9" fill="#d0e0b0" opacity="0.68"/><circle cx="425" cy="1055" r="0.9" fill="#d8b8e8" opacity="0.59"/><circle cx="285" cy="845" r="1.4" fill="#b890d0" opacity="0.86"/><circle cx="345" cy="1141" r="1.7" fill="#c0d8a0" opacity="0.43"/><circle cx="442" cy="842" r="1.8" fill="#a080c0" opacity="0.88"/><circle cx="251" cy="765" r="0.9" fill="#a8c890" opacity="0.49"/><ellipse cx="79" cy="1030" rx="3.5" ry="1.4" fill="#b890d0" opacity="0.62"/><circle cx="234" cy="1080" r="1.0" fill="#a8c890" opacity="0.76"/><circle cx="688" cy="1147" r="0.9" fill="#d8b8e8" opacity="0.61"/><circle cx="328" cy="916" r="1.5" fill="#a080c0" opacity="0.40"/><circle cx="183" cy="952" r="1.0" fill="#b890d0" opacity="0.66"/><circle cx="156" cy="968" r="2.0" fill="#9070b0" opacity="0.77"/><circle cx="100" cy="862" r="1.9" fill="#b890d0" opacity="0.84"/><circle cx="162" cy="1096" r="1.2" fill="#a8c890" opacity="0.63"/><circle cx="597" cy="832" r="2.1" fill="#9070b0" opacity="0.44"/><circle cx="604" cy="954" r="2.1" fill="#d8b8e8" opacity="0.84"/><circle cx="362" cy="919" r="1.5" fill="#9070b0" opacity="0.47"/><circle cx="99" cy="978" r="1.0" fill="#d8b8e8" opacity="0.53"/><circle cx="53" cy="967" r="1.6" fill="#9070b0" opacity="0.52"/><circle cx="269" cy="687" r="0.9" fill="#a8c890" opacity="0.60"/><circle cx="366" cy="790" r="1.0" fill="#a080c0" opacity="0.84"/><circle cx="189" cy="761" r="1.6" fill="#a8c890" opacity="0.47"/><circle cx="585" cy="926" r="1.4" fill="#c8a0dc" opacity="0.79"/><circle cx="198" cy="821" r="1.4" fill="#9070b0" opacity="0.80"/><circle cx="569" cy="1105" r="0.9" fill="#9070b0" opacity="0.47"/><circle cx="271" cy="1117" r="1.6" fill="#c0d8a0" opacity="0.61"/><circle cx="87" cy="875" r="1.5" fill="#c8a0dc" opacity="0.51"/><circle cx="299" cy="1188" r="1.3" fill="#c0d8a0" opacity="0.41"/><circle cx="393" cy="1147" r="1.5" fill="#d0e0b0" opacity="0.41"/><circle cx="195" cy="657" r="0.9" fill="#c0d8a0" opacity="0.45"/><circle cx="344" cy="931" r="1.0" fill="#c8a0dc" opacity="0.66"/><circle cx="634" cy="955" r="1.2" fill="#c8a0dc" opacity="0.77"/><circle cx="336" cy="1020" r="1.1" fill="#a080c0" opacity="0.50"/><ellipse cx="340" cy="939" rx="3.6" ry="1.5" fill="#a080c0" opacity="0.81"/><circle cx="252" cy="815" r="1.2" fill="#b890d0" opacity="0.55"/><circle cx="145" cy="672" r="1.8" fill="#c0d8a0" opacity="0.61"/><circle cx="582" cy="831" r="1.9" fill="#9070b0" opacity="0.51"/><circle cx="479" cy="976" r="2.0" fill="#9070b0" opacity="0.45"/><circle cx="451" cy="1025" r="1.4" fill="#c8a0dc" opacity="0.40"/><circle cx="421" cy="911" r="2.1" fill="#9070b0" opacity="0.47"/><circle cx="223" cy="979" r="1.0" fill="#a080c0" opacity="0.75"/><circle cx="270" cy="831" r="1.5" fill="#9070b0" opacity="0.59"/><circle cx="418" cy="684" r="1.9" fill="#d0e0b0" opacity="0.74"/><circle cx="637" cy="1064" r="1.6" fill="#a080c0" opacity="0.66"/><circle cx="485" cy="851" r="1.3" fill="#9070b0" opacity="0.74"/><circle cx="366" cy="994" r="2.1" fill="#b890d0" opacity="0.84"/><circle cx="357" cy="879" r="1.7" fill="#9070b0" opacity="0.57"/><circle cx="576" cy="919" r="1.0" fill="#d8b8e8" opacity="0.74"/><circle cx="683" cy="1127" r="1.4" fill="#b890d0" opacity="0.66"/><circle cx="176" cy="1130" r="1.2" fill="#d0e0b0" opacity="0.64"/><circle cx="271" cy="1186" r="1.5" fill="#a8c890" opacity="0.40"/><ellipse cx="44" cy="1029" rx="3.5" ry="1.4" fill="#d8b8e8" opacity="0.60"/><circle cx="135" cy="745" r="1.5" fill="#d0e0b0" opacity="0.70"/><circle cx="575" cy="975" r="1.9" fill="#c8a0dc" opacity="0.73"/><circle cx="417" cy="715" r="1.0" fill="#c0d8a0" opacity="0.51"/><circle cx="106" cy="1136" r="1.5" fill="#a8c890" opacity="0.65"/><circle cx="145" cy="960" r="1.0" fill="#c8a0dc" opacity="0.85"/><ellipse cx="238" cy="969" rx="4.7" ry="1.9" fill="#a080c0" opacity="0.89"/><circle cx="480" cy="1009" r="1.6" fill="#a080c0" opacity="0.55"/><circle cx="355" cy="1074" r="1.0" fill="#a8c890" opacity="0.55"/><circle cx="47" cy="1124" r="1.2" fill="#a8c890" opacity="0.61"/><circle cx="291" cy="858" r="0.9" fill="#c8a0dc" opacity="0.61"/><ellipse cx="400" cy="850" rx="3.2" ry="1.3" fill="#d8b8e8" opacity="0.52"/><circle cx="472" cy="824" r="1.0" fill="#b890d0" opacity="0.45"/><circle cx="369" cy="761" r="1.3" fill="#d0e0b0" opacity="0.80"/><circle cx="428" cy="879" r="2.2" fill="#9070b0" opacity="0.52"/><circle cx="393" cy="785" r="1.7" fill="#d0e0b0" opacity="0.69"/><circle cx="167" cy="1033" r="0.9" fill="#d8b8e8" opacity="0.46"/><circle cx="225" cy="858" r="2.1" fill="#b890d0" opacity="0.87"/><circle cx="58" cy="1025" r="1.4" fill="#a080c0" opacity="0.58"/><circle cx="170" cy="803" r="1.2" fill="#a8c890" opacity="0.65"/><circle cx="651" cy="948" r="1.1" fill="#a080c0" opacity="0.76"/><circle cx="323" cy="1014" r="1.3" fill="#c8a0dc" opacity="0.46"/><circle cx="492" cy="1175" r="1.9" fill="#f8e8d0" opacity="0.71"/><circle cx="545" cy="826" r="2.1" fill="#a080c0" opacity="0.75"/><circle cx="526" cy="1094" r="1.2" fill="#c8a0dc" opacity="0.57"/><circle cx="328" cy="824" r="1.5" fill="#a080c0" opacity="0.65"/><circle cx="175" cy="1008" r="2.0" fill="#b890d0" opacity="0.64"/><circle cx="658" cy="1092" r="1.6" fill="#b890d0" opacity="0.67"/><circle cx="454" cy="936" r="1.1" fill="#c8a0dc" opacity="0.48"/><circle cx="102" cy="988" r="1.0" fill="#a080c0" opacity="0.74"/><ellipse cx="198" cy="921" rx="3.1" ry="1.3" fill="#d8b8e8" opacity="0.75"/><circle cx="500" cy="961" r="1.1" fill="#c8a0dc" opacity="0.67"/><circle cx="151" cy="1004" r="1.6" fill="#a080c0" opacity="0.82"/><ellipse cx="175" cy="1017" rx="1.8" ry="0.7" fill="#a080c0" opacity="0.50"/><circle cx="224" cy="744" r="1.6" fill="#c0d8a0" opacity="0.46"/><ellipse cx="330" cy="950" rx="2.7" ry="1.1" fill="#9070b0" opacity="0.44"/><circle cx="684" cy="1051" r="0.9" fill="#d8b8e8" opacity="0.89"/><circle cx="112" cy="906" r="1.4" fill="#b890d0" opacity="0.79"/><ellipse cx="515" cy="1022" rx="3.8" ry="1.5" fill="#c8a0dc" opacity="0.47"/><circle cx="543" cy="1100" r="1.2" fill="#b890d0" opacity="0.88"/><circle cx="621" cy="1013" r="0.9" fill="#d8b8e8" opacity="0.77"/><circle cx="161" cy="1092" r="1.1" fill="#d0e0b0" opacity="0.77"/><circle cx="584" cy="775" r="1.0" fill="#f8e8d0" opacity="0.88"/><circle cx="638" cy="1189" r="1.5" fill="#f8e8d0" opacity="0.68"/><ellipse cx="316" cy="1040" rx="4.8" ry="2.0" fill="#9070b0" opacity="0.69"/><circle cx="551" cy="871" r="1.2" fill="#c8a0dc" opacity="0.66"/><circle cx="261" cy="878" r="1.7" fill="#b890d0" opacity="0.85"/><circle cx="233" cy="881" r="1.6" fill="#d8b8e8" opacity="0.68"/><circle cx="393" cy="921" r="1.4" fill="#9070b0" opacity="0.85"/><circle cx="672" cy="1168" r="1.7" fill="#c8a0dc" opacity="0.76"/><circle cx="468" cy="948" r="1.4" fill="#d8b8e8" opacity="0.64"/><circle cx="236" cy="825" r="2.0" fill="#c8a0dc" opacity="0.82"/><circle cx="521" cy="1018" r="1.0" fill="#9070b0" opacity="0.59"/><circle cx="311" cy="929" r="1.6" fill="#a080c0" opacity="0.53"/><circle cx="584" cy="995" r="1.1" fill="#d8b8e8" opacity="0.75"/><circle cx="338" cy="935" r="1.8" fill="#9070b0" opacity="0.85"/><circle cx="593" cy="1011" r="1.9" fill="#b890d0" opacity="0.83"/><circle cx="504" cy="1054" r="1.0" fill="#9070b0" opacity="0.45"/><circle cx="543" cy="711" r="2.1" fill="#f8e8d0" opacity="0.68"/><circle cx="283" cy="643" r="1.5" fill="#a8c890" opacity="0.45"/><circle cx="172" cy="699" r="1.6" fill="#a8c890" opacity="0.70"/><circle cx="263" cy="1058" r="1.8" fill="#d8b8e8" opacity="0.46"/><circle cx="519" cy="1160" r="2.0" fill="#f8e8d0" opacity="0.81"/><circle cx="106" cy="939" r="1.9" fill="#c8a0dc" opacity="0.42"/><circle cx="199" cy="831" r="1.8" fill="#c8a0dc" opacity="0.82"/><circle cx="162" cy="942" r="1.2" fill="#a080c0" opacity="0.82"/><circle cx="204" cy="1187" r="1.7" fill="#a8c890" opacity="0.41"/><circle cx="482" cy="852" r="1.5" fill="#b890d0" opacity="0.75"/><circle cx="190" cy="1166" r="1.4" fill="#d0e0b0" opacity="0.49"/><circle cx="620" cy="961" r="0.9" fill="#b890d0" opacity="0.81"/><circle cx="256" cy="894" r="2.1" fill="#d8b8e8" opacity="0.40"/><circle cx="219" cy="912" r="1.2" fill="#9070b0" opacity="0.69"/><circle cx="132" cy="1022" r="2.1" fill="#c8a0dc" opacity="0.84"/><circle cx="452" cy="987" r="1.3" fill="#d8b8e8" opacity="0.80"/><circle cx="263" cy="836" r="2.0" fill="#b890d0" opacity="0.58"/><circle cx="305" cy="668" r="1.1" fill="#a8c890" opacity="0.60"/><ellipse cx="621" cy="1083" rx="4.8" ry="2.0" fill="#b890d0" opacity="0.47"/><circle cx="606" cy="886" r="1.4" fill="#9070b0" opacity="0.79"/><circle cx="422" cy="715" r="1.6" fill="#d0e0b0" opacity="0.62"/><circle cx="649" cy="824" r="2.1" fill="#9070b0" opacity="0.86"/><circle cx="239" cy="831" r="1.5" fill="#a080c0" opacity="0.76"/><circle cx="585" cy="812" r="1.0" fill="#d8b8e8" opacity="0.67"/><circle cx="447" cy="766" r="0.9" fill="#f8e8d0" opacity="0.76"/><circle cx="620" cy="792" r="1.5" fill="#c8a0dc" opacity="0.50"/><ellipse cx="665" cy="968" rx="2.0" ry="0.8" fill="#9070b0" opacity="0.57"/><circle cx="164" cy="932" r="2.0" fill="#d8b8e8" opacity="0.86"/><circle cx="253" cy="1050" r="1.7" fill="#a080c0" opacity="0.70"/><circle cx="155" cy="1113" r="1.7" fill="#d0e0b0" opacity="0.53"/><ellipse cx="362" cy="966" rx="2.6" ry="1.0" fill="#a080c0" opacity="0.84"/><circle cx="247" cy="997" r="1.2" fill="#a080c0" opacity="0.71"/><circle cx="255" cy="687" r="0.9" fill="#c0d8a0" opacity="0.54"/><circle cx="276" cy="826" r="1.8" fill="#9070b0" opacity="0.48"/><circle cx="398" cy="1026" r="1.6" fill="#d8b8e8" opacity="0.66"/><circle cx="543" cy="836" r="2.2" fill="#b890d0" opacity="0.60"/><circle cx="648" cy="981" r="1.0" fill="#9070b0" opacity="0.65"/><circle cx="160" cy="1156" r="1.2" fill="#c0d8a0" opacity="0.75"/><circle cx="596" cy="1067" r="1.5" fill="#d8b8e8" opacity="0.79"/><circle cx="678" cy="911" r="1.7" fill="#d8b8e8" opacity="0.85"/><circle cx="285" cy="999" r="2.0" fill="#c8a0dc" opacity="0.53"/><circle cx="458" cy="800" r="2.2" fill="#b890d0" opacity="0.89"/><circle cx="130" cy="801" r="0.8" fill="#c0d8a0" opacity="0.46"/><circle cx="484" cy="966" r="1.4" fill="#9070b0" opacity="0.43"/><circle cx="593" cy="1042" r="0.9" fill="#a080c0" opacity="0.49"/><circle cx="686" cy="800" r="0.8" fill="#c8a0dc" opacity="0.48"/><circle cx="128" cy="803" r="1.4" fill="#c0d8a0" opacity="0.59"/><circle cx="299" cy="864" r="1.7" fill="#a080c0" opacity="0.84"/><circle cx="67" cy="915" r="1.1" fill="#a080c0" opacity="0.75"/><circle cx="73" cy="1130" r="0.8" fill="#a8c890" opacity="0.79"/><circle cx="452" cy="937" r="2.2" fill="#9070b0" opacity="0.58"/><circle cx="636" cy="829" r="1.1" fill="#b890d0" opacity="0.77"/><circle cx="157" cy="782" r="0.8" fill="#d0e0b0" opacity="0.42"/><circle cx="69" cy="886" r="1.2" fill="#d8b8e8" opacity="0.75"/><circle cx="608" cy="1033" r="1.4" fill="#d8b8e8" opacity="0.67"/><circle cx="140" cy="1057" r="2.0" fill="#b890d0" opacity="0.85"/><circle cx="197" cy="913" r="2.2" fill="#9070b0" opacity="0.76"/><circle cx="576" cy="1003" r="0.9" fill="#9070b0" opacity="0.79"/><circle cx="74" cy="1020" r="1.3" fill="#a080c0" opacity="0.67"/><circle cx="372" cy="963" r="2.2" fill="#b890d0" opacity="0.81"/><circle cx="605" cy="832" r="0.9" fill="#9070b0" opacity="0.53"/><circle cx="640" cy="1059" r="1.2" fill="#a080c0" opacity="0.83"/><circle cx="423" cy="951" r="2.2" fill="#c8a0dc" opacity="0.86"/><circle cx="381" cy="927" r="1.9" fill="#b890d0" opacity="0.74"/><circle cx="601" cy="872" r="1.4" fill="#d8b8e8" opacity="0.59"/><circle cx="471" cy="925" r="1.2" fill="#c8a0dc" opacity="0.54"/><circle cx="155" cy="922" r="0.8" fill="#b890d0" opacity="0.58"/><circle cx="196" cy="840" r="1.3" fill="#a080c0" opacity="0.53"/><circle cx="394" cy="1143" r="1.0" fill="#a8c890" opacity="0.44"/><circle cx="555" cy="977" r="1.3" fill="#c8a0dc" opacity="0.76"/><circle cx="69" cy="1052" r="2.2" fill="#a080c0" opacity="0.72"/><circle cx="270" cy="848" r="1.6" fill="#9070b0" opacity="0.50"/><ellipse cx="503" cy="841" rx="3.8" ry="1.6" fill="#d8b8e8" opacity="0.83"/><circle cx="330" cy="853" r="1.4" fill="#c8a0dc" opacity="0.45"/><ellipse cx="647" cy="1023" rx="3.1" ry="1.3" fill="#a080c0" opacity="0.49"/><circle cx="299" cy="710" r="1.7" fill="#c0d8a0" opacity="0.70"/><circle cx="540" cy="1062" r="1.0" fill="#b890d0" opacity="0.82"/><ellipse cx="52" cy="910" rx="4.4" ry="1.8" fill="#b890d0" opacity="0.68"/><circle cx="483" cy="1029" r="1.5" fill="#c8a0dc" opacity="0.68"/><circle cx="588" cy="713" r="1.5" fill="#f8e8d0" opacity="0.82"/><circle cx="249" cy="740" r="2.0" fill="#d0e0b0" opacity="0.51"/><circle cx="212" cy="808" r="1.2" fill="#d8b8e8" opacity="0.68"/><circle cx="76" cy="932" r="1.3" fill="#a080c0" opacity="0.73"/><circle cx="133" cy="1150" r="1.2" fill="#d0e0b0" opacity="0.62"/><circle cx="408" cy="814" r="1.2" fill="#a080c0" opacity="0.55"/><circle cx="561" cy="963" r="1.4" fill="#a080c0" opacity="0.50"/><circle cx="159" cy="1110" r="0.9" fill="#c0d8a0" opacity="0.73"/><circle cx="561" cy="931" r="1.0" fill="#b890d0" opacity="0.66"/><circle cx="172" cy="686" r="0.8" fill="#a8c890" opacity="0.68"/><circle cx="328" cy="870" r="2.0" fill="#b890d0" opacity="0.42"/><circle cx="232" cy="764" r="1.5" fill="#d0e0b0" opacity="0.69"/><circle cx="242" cy="778" r="1.4" fill="#d0e0b0" opacity="0.79"/><circle cx="187" cy="937" r="0.9" fill="#a080c0" opacity="0.47"/><circle cx="258" cy="857" r="0.9" fill="#d8b8e8" opacity="0.46"/><ellipse cx="686" cy="1155" rx="3.4" ry="1.4" fill="#d8b8e8" opacity="0.64"/><circle cx="172" cy="896" r="1.9" fill="#b890d0" opacity="0.69"/><circle cx="417" cy="691" r="0.7" fill="#c0d8a0" opacity="0.66"/><circle cx="87" cy="945" r="0.9" fill="#9070b0" opacity="0.46"/><circle cx="309" cy="1021" r="1.4" fill="#d8b8e8" opacity="0.44"/><circle cx="517" cy="834" r="1.7" fill="#c8a0dc" opacity="0.57"/><circle cx="607" cy="901" r="1.0" fill="#c8a0dc" opacity="0.45"/><circle cx="141" cy="785" r="1.4" fill="#c0d8a0" opacity="0.47"/><circle cx="388" cy="916" r="1.3" fill="#b890d0" opacity="0.54"/><circle cx="681" cy="1138" r="1.8" fill="#9070b0" opacity="0.65"/><circle cx="411" cy="1017" r="1.1" fill="#b890d0" opacity="0.48"/><ellipse cx="62" cy="853" rx="3.4" ry="1.4" fill="#d8b8e8" opacity="0.68"/><circle cx="374" cy="1089" r="1.8" fill="#a8c890" opacity="0.79"/><circle cx="69" cy="978" r="1.8" fill="#d8b8e8" opacity="0.57"/><circle cx="309" cy="861" r="0.9" fill="#b890d0" opacity="0.47"/><circle cx="150" cy="1077" r="1.7" fill="#c0d8a0" opacity="0.67"/><circle cx="66" cy="926" r="1.3" fill="#c8a0dc" opacity="0.78"/><circle cx="171" cy="981" r="2.0" fill="#a080c0" opacity="0.45"/><circle cx="627" cy="1048" r="2.0" fill="#9070b0" opacity="0.48"/><circle cx="426" cy="998" r="1.7" fill="#c8a0dc" opacity="0.88"/><circle cx="205" cy="1099" r="1.0" fill="#a8c890" opacity="0.62"/><circle cx="610" cy="954" r="2.1" fill="#c8a0dc" opacity="0.60"/><ellipse cx="555" cy="1013" rx="4.7" ry="1.9" fill="#a080c0" opacity="0.60"/><circle cx="583" cy="1074" r="0.8" fill="#a080c0" opacity="0.70"/><circle cx="610" cy="898" r="1.4" fill="#d8b8e8" opacity="0.63"/><circle cx="180" cy="831" r="2.0" fill="#9070b0" opacity="0.42"/><circle cx="285" cy="1132" r="1.2" fill="#c0d8a0" opacity="0.54"/><circle cx="297" cy="912" r="2.1" fill="#9070b0" opacity="0.80"/><circle cx="596" cy="1171" r="1.5" fill="#f8e8d0" opacity="0.90"/><ellipse cx="519" cy="1010" rx="4.8" ry="2.0" fill="#9070b0" opacity="0.73"/><circle cx="256" cy="783" r="1.1" fill="#d0e0b0" opacity="0.65"/><circle cx="285" cy="924" r="1.7" fill="#a080c0" opacity="0.65"/><circle cx="54" cy="1120" r="1.8" fill="#a8c890" opacity="0.58"/><circle cx="72" cy="852" r="1.8" fill="#d8b8e8" opacity="0.71"/><circle cx="97" cy="1161" r="1.5" fill="#d0e0b0" opacity="0.54"/><circle cx="626" cy="815" r="2.0" fill="#a080c0" opacity="0.81"/><circle cx="147" cy="1044" r="1.0" fill="#d8b8e8" opacity="0.85"/><circle cx="671" cy="1066" r="1.3" fill="#b890d0" opacity="0.54"/><circle cx="349" cy="979" r="2.1" fill="#a080c0" opacity="0.45"/><circle cx="297" cy="849" r="2.1" fill="#d8b8e8" opacity="0.46"/><circle cx="445" cy="913" r="1.4" fill="#b890d0" opacity="0.79"/><circle cx="140" cy="1054" r="1.5" fill="#9070b0" opacity="0.82"/><circle cx="91" cy="852" r="1.8" fill="#a080c0" opacity="0.66"/><circle cx="450" cy="779" r="2.1" fill="#f8e8d0" opacity="0.89"/><circle cx="409" cy="831" r="2.1" fill="#d8b8e8" opacity="0.89"/><circle cx="582" cy="1029" r="2.1" fill="#b890d0" opacity="0.72"/><circle cx="452" cy="1018" r="1.9" fill="#a080c0" opacity="0.82"/><circle cx="585" cy="857" r="1.5" fill="#d8b8e8" opacity="0.57"/><circle cx="606" cy="930" r="1.5" fill="#d8b8e8" opacity="0.47"/><circle cx="85" cy="864" r="1.5" fill="#9070b0" opacity="0.73"/><circle cx="303" cy="953" r="1.2" fill="#b890d0" opacity="0.48"/><circle cx="530" cy="912" r="2.1" fill="#c8a0dc" opacity="0.77"/><circle cx="497" cy="974" r="1.2" fill="#c8a0dc" opacity="0.79"/><circle cx="371" cy="972" r="2.1" fill="#d8b8e8" opacity="0.45"/><circle cx="673" cy="1079" r="1.3" fill="#9070b0" opacity="0.44"/><circle cx="252" cy="637" r="1.5" fill="#a8c890" opacity="0.60"/><circle cx="674" cy="962" r="1.6" fill="#c8a0dc" opacity="0.42"/><circle cx="114" cy="759" r="1.5" fill="#a8c890" opacity="0.61"/><circle cx="191" cy="943" r="1.9" fill="#d8b8e8" opacity="0.82"/><circle cx="389" cy="652" r="1.7" fill="#d0e0b0" opacity="0.51"/><circle cx="284" cy="1164" r="1.1" fill="#c0d8a0" opacity="0.56"/><circle cx="373" cy="961" r="1.1" fill="#c8a0dc" opacity="0.80"/><circle cx="255" cy="1181" r="0.8" fill="#c0d8a0" opacity="0.57"/><circle cx="669" cy="1123" r="1.7" fill="#b890d0" opacity="0.57"/><circle cx="376" cy="878" r="1.1" fill="#b890d0" opacity="0.79"/><circle cx="57" cy="1045" r="1.7" fill="#c8a0dc" opacity="0.43"/><circle cx="213" cy="832" r="1.0" fill="#d8b8e8" opacity="0.90"/><circle cx="563" cy="887" r="0.9" fill="#c8a0dc" opacity="0.83"/><circle cx="614" cy="904" r="0.9" fill="#d8b8e8" opacity="0.80"/><circle cx="371" cy="751" r="1.0" fill="#c0d8a0" opacity="0.68"/><circle cx="654" cy="1178" r="1.4" fill="#a080c0" opacity="0.48"/><circle cx="633" cy="1111" r="1.3" fill="#9070b0" opacity="0.84"/><circle cx="290" cy="693" r="1.5" fill="#c0d8a0" opacity="0.58"/><circle cx="535" cy="951" r="1.8" fill="#a080c0" opacity="0.48"/><ellipse cx="612" cy="971" rx="2.1" ry="0.9" fill="#a080c0" opacity="0.70"/><circle cx="196" cy="1182" r="1.0" fill="#d0e0b0" opacity="0.73"/><circle cx="452" cy="1046" r="0.9" fill="#c8a0dc" opacity="0.85"/><ellipse cx="43" cy="893" rx="3.0" ry="1.2" fill="#b890d0" opacity="0.79"/><ellipse cx="402" cy="955" rx="3.0" ry="1.2" fill="#c8a0dc" opacity="0.48"/><ellipse cx="367" cy="978" rx="3.6" ry="1.5" fill="#9070b0" opacity="0.44"/><circle cx="395" cy="796" r="1.4" fill="#c8a0dc" opacity="0.68"/><circle cx="163" cy="916" r="2.0" fill="#b890d0" opacity="0.46"/><circle cx="176" cy="873" r="1.0" fill="#c8a0dc" opacity="0.67"/><circle cx="103" cy="1040" r="2.0" fill="#c8a0dc" opacity="0.44"/><circle cx="259" cy="741" r="0.8" fill="#d0e0b0" opacity="0.68"/><circle cx="429" cy="923" r="1.4" fill="#a080c0" opacity="0.86"/><circle cx="178" cy="1055" r="1.9" fill="#c8a0dc" opacity="0.86"/><ellipse cx="328" cy="1026" rx="2.5" ry="1.0" fill="#d8b8e8" opacity="0.82"/><circle cx="466" cy="897" r="1.7" fill="#d8b8e8" opacity="0.54"/><circle cx="638" cy="817" r="1.9" fill="#b890d0" opacity="0.84"/><circle cx="386" cy="693" r="1.8" fill="#d0e0b0" opacity="0.53"/><circle cx="77" cy="1003" r="1.1" fill="#a080c0" opacity="0.87"/><circle cx="544" cy="985" r="1.7" fill="#b890d0" opacity="0.54"/><circle cx="156" cy="878" r="1.8" fill="#d8b8e8" opacity="0.78"/><circle cx="208" cy="650" r="1.6" fill="#a8c890" opacity="0.65"/><circle cx="466" cy="1045" r="1.0" fill="#c8a0dc" opacity="0.70"/><circle cx="239" cy="670" r="0.8" fill="#a8c890" opacity="0.43"/><circle cx="403" cy="1035" r="1.7" fill="#9070b0" opacity="0.74"/><circle cx="307" cy="1017" r="1.4" fill="#c8a0dc" opacity="0.83"/><circle cx="111" cy="751" r="1.2" fill="#d0e0b0" opacity="0.40"/><circle cx="422" cy="1001" r="1.1" fill="#b890d0" opacity="0.64"/><circle cx="648" cy="832" r="1.6" fill="#b890d0" opacity="0.47"/><circle cx="205" cy="838" r="1.5" fill="#c8a0dc" opacity="0.84"/><circle cx="149" cy="1056" r="2.1" fill="#c8a0dc" opacity="0.51"/><ellipse cx="184" cy="848" rx="2.9" ry="1.2" fill="#a080c0" opacity="0.53"/><circle cx="106" cy="844" r="1.3" fill="#d8b8e8" opacity="0.41"/><circle cx="117" cy="890" r="1.8" fill="#c8a0dc" opacity="0.60"/><ellipse cx="639" cy="1139" rx="3.1" ry="1.3" fill="#c8a0dc" opacity="0.46"/><circle cx="276" cy="895" r="2.1" fill="#9070b0" opacity="0.43"/><circle cx="643" cy="843" r="0.9" fill="#a080c0" opacity="0.66"/><circle cx="152" cy="1114" r="1.0" fill="#a8c890" opacity="0.59"/><ellipse cx="654" cy="1070" rx="2.2" ry="0.9" fill="#a080c0" opacity="0.72"/><circle cx="63" cy="994" r="1.9" fill="#9070b0" opacity="0.47"/><circle cx="293" cy="1126" r="1.1" fill="#a8c890" opacity="0.66"/><ellipse cx="463" cy="1023" rx="1.8" ry="0.7" fill="#a080c0" opacity="0.85"/><circle cx="182" cy="655" r="1.3" fill="#c0d8a0" opacity="0.52"/><circle cx="245" cy="745" r="0.8" fill="#c0d8a0" opacity="0.41"/><circle cx="656" cy="908" r="2.2" fill="#9070b0" opacity="0.85"/><circle cx="346" cy="807" r="1.9" fill="#d8b8e8" opacity="0.51"/><circle cx="250" cy="860" r="1.3" fill="#c8a0dc" opacity="0.68"/><circle cx="435" cy="898" r="1.6" fill="#a080c0" opacity="0.47"/><circle cx="120" cy="1167" r="0.9" fill="#d0e0b0" opacity="0.45"/><circle cx="250" cy="1052" r="1.0" fill="#a080c0" opacity="0.48"/><circle cx="335" cy="862" r="2.0" fill="#b890d0" opacity="0.83"/><circle cx="216" cy="1157" r="1.2" fill="#c0d8a0" opacity="0.79"/><circle cx="471" cy="1026" r="1.6" fill="#a080c0" opacity="0.52"/><circle cx="159" cy="1018" r="1.2" fill="#b890d0" opacity="0.61"/><circle cx="209" cy="1090" r="1.6" fill="#d0e0b0" opacity="0.59"/><circle cx="477" cy="1078" r="0.8" fill="#a080c0" opacity="0.57"/><circle cx="661" cy="1128" r="1.5" fill="#d8b8e8" opacity="0.79"/><circle cx="321" cy="1166" r="1.0" fill="#c0d8a0" opacity="0.76"/><ellipse cx="192" cy="1042" rx="2.9" ry="1.2" fill="#a080c0" opacity="0.78"/><circle cx="186" cy="754" r="1.1" fill="#c0d8a0" opacity="0.75"/><circle cx="441" cy="993" r="1.5" fill="#a080c0" opacity="0.87"/><circle cx="272" cy="1025" r="1.4" fill="#b890d0" opacity="0.81"/><circle cx="480" cy="1068" r="1.4" fill="#c8a0dc" opacity="0.88"/><circle cx="583" cy="991" r="1.7" fill="#9070b0" opacity="0.88"/><circle cx="538" cy="802" r="1.2" fill="#c8a0dc" opacity="0.70"/><circle cx="608" cy="961" r="1.1" fill="#c8a0dc" opacity="0.70"/><circle cx="625" cy="1070" r="1.1" fill="#c8a0dc" opacity="0.46"/><circle cx="249" cy="866" r="1.5" fill="#d8b8e8" opacity="0.57"/><circle cx="213" cy="782" r="0.8" fill="#a8c890" opacity="0.45"/><circle cx="604" cy="817" r="1.5" fill="#b890d0" opacity="0.49"/><ellipse cx="291" cy="1032" rx="2.5" ry="1.0" fill="#c8a0dc" opacity="0.80"/><circle cx="112" cy="986" r="1.1" fill="#d8b8e8" opacity="0.65"/><circle cx="257" cy="667" r="1.0" fill="#d0e0b0" opacity="0.52"/><circle cx="456" cy="1018" r="1.7" fill="#b890d0" opacity="0.50"/><circle cx="541" cy="1093" r="1.8" fill="#d8b8e8" opacity="0.60"/><circle cx="240" cy="1064" r="1.2" fill="#d8b8e8" opacity="0.42"/><circle cx="140" cy="1151" r="1.8" fill="#c0d8a0" opacity="0.53"/><circle cx="550" cy="1033" r="2.0" fill="#a080c0" opacity="0.66"/><circle cx="205" cy="1005" r="1.1" fill="#d8b8e8" opacity="0.83"/><ellipse cx="313" cy="1026" rx="3.4" ry="1.4" fill="#d8b8e8" opacity="0.71"/><circle cx="337" cy="988" r="1.2" fill="#c8a0dc" opacity="0.83"/><circle cx="403" cy="670" r="1.6" fill="#d0e0b0" opacity="0.43"/><circle cx="528" cy="1062" r="1.4" fill="#c8a0dc" opacity="0.47"/><circle cx="505" cy="1043" r="0.8" fill="#b890d0" opacity="0.67"/><circle cx="246" cy="1088" r="1.5" fill="#c0d8a0" opacity="0.47"/><circle cx="537" cy="871" r="1.3" fill="#c8a0dc" opacity="0.85"/><circle cx="508" cy="849" r="1.1" fill="#b890d0" opacity="0.70"/><circle cx="343" cy="1032" r="1.8" fill="#b890d0" opacity="0.77"/><circle cx="60" cy="919" r="1.9" fill="#b890d0" opacity="0.89"/><ellipse cx="245" cy="1039" rx="4.4" ry="1.8" fill="#b890d0" opacity="0.73"/><circle cx="189" cy="811" r="2.0" fill="#d8b8e8" opacity="0.55"/><circle cx="297" cy="792" r="1.9" fill="#d0e0b0" opacity="0.56"/><circle cx="637" cy="1081" r="2.2" fill="#b890d0" opacity="0.78"/><circle cx="206" cy="998" r="1.3" fill="#d8b8e8" opacity="0.47"/><circle cx="524" cy="1010" r="1.7" fill="#c8a0dc" opacity="0.80"/><circle cx="676" cy="1159" r="1.5" fill="#a080c0" opacity="0.79"/><circle cx="181" cy="824" r="1.1" fill="#c8a0dc" opacity="0.46"/><circle cx="243" cy="899" r="1.3" fill="#9070b0" opacity="0.64"/><circle cx="517" cy="808" r="2.0" fill="#9070b0" opacity="0.86"/><circle cx="688" cy="1131" r="0.9" fill="#a080c0" opacity="0.61"/><circle cx="662" cy="1021" r="1.0" fill="#9070b0" opacity="0.42"/><circle cx="322" cy="1032" r="1.4" fill="#c8a0dc" opacity="0.49"/><circle cx="375" cy="1048" r="0.9" fill="#9070b0" opacity="0.80"/><ellipse cx="255" cy="1041" rx="2.3" ry="1.0" fill="#9070b0" opacity="0.78"/><circle cx="606" cy="970" r="1.3" fill="#9070b0" opacity="0.85"/><circle cx="53" cy="995" r="2.0" fill="#c8a0dc" opacity="0.83"/><circle cx="623" cy="1134" r="2.1" fill="#9070b0" opacity="0.63"/><circle cx="180" cy="720" r="1.3" fill="#c0d8a0" opacity="0.64"/><circle cx="345" cy="686" r="0.7" fill="#d0e0b0" opacity="0.47"/><circle cx="548" cy="933" r="1.1" fill="#b890d0" opacity="0.52"/><circle cx="606" cy="1176" r="2.0" fill="#f8e8d0" opacity="0.76"/><circle cx="426" cy="755" r="1.8" fill="#d0e0b0" opacity="0.42"/><circle cx="653" cy="880" r="0.9" fill="#c8a0dc" opacity="0.85"/><circle cx="311" cy="812" r="1.0" fill="#b890d0" opacity="0.90"/><circle cx="307" cy="977" r="1.2" fill="#b890d0" opacity="0.72"/><circle cx="134" cy="962" r="1.0" fill="#d8b8e8" opacity="0.49"/><circle cx="347" cy="745" r="1.5" fill="#c0d8a0" opacity="0.49"/><circle cx="270" cy="847" r="0.9" fill="#c8a0dc" opacity="0.58"/><circle cx="270" cy="1018" r="1.3" fill="#b890d0" opacity="0.63"/><circle cx="396" cy="658" r="1.7" fill="#d0e0b0" opacity="0.65"/><circle cx="637" cy="858" r="1.4" fill="#d8b8e8" opacity="0.48"/><circle cx="481" cy="856" r="1.3" fill="#9070b0" opacity="0.74"/><ellipse cx="653" cy="939" rx="3.0" ry="1.2" fill="#b890d0" opacity="0.54"/><circle cx="327" cy="787" r="1.4" fill="#d0e0b0" opacity="0.61"/><circle cx="643" cy="989" r="1.5" fill="#d8b8e8" opacity="0.53"/><circle cx="85" cy="1084" r="1.5" fill="#a8c890" opacity="0.52"/><circle cx="362" cy="1155" r="1.2" fill="#c0d8a0" opacity="0.42"/><circle cx="563" cy="716" r="1.2" fill="#f8e8d0" opacity="0.69"/><circle cx="517" cy="1034" r="2.1" fill="#b890d0" opacity="0.68"/><circle cx="100" cy="1148" r="1.3" fill="#d0e0b0" opacity="0.60"/><circle cx="515" cy="869" r="1.7" fill="#b890d0" opacity="0.70"/><circle cx="67" cy="666" r="1.1" fill="#f8e8d0" opacity="0.85"/><circle cx="436" cy="1008" r="2.2" fill="#d8b8e8" opacity="0.46"/><circle cx="252" cy="862" r="1.4" fill="#a080c0" opacity="0.89"/><circle cx="269" cy="1043" r="0.9" fill="#9070b0" opacity="0.71"/><circle cx="549" cy="938" r="2.0" fill="#c8a0dc" opacity="0.63"/><circle cx="431" cy="822" r="1.4" fill="#b890d0" opacity="0.83"/><circle cx="405" cy="714" r="0.9" fill="#d0e0b0" opacity="0.66"/><circle cx="588" cy="836" r="1.8" fill="#b890d0" opacity="0.68"/><circle cx="440" cy="810" r="1.3" fill="#d8b8e8" opacity="0.90"/><circle cx="472" cy="975" r="0.8" fill="#9070b0" opacity="0.74"/><circle cx="597" cy="906" r="1.2" fill="#c8a0dc" opacity="0.65"/><circle cx="72" cy="872" r="0.9" fill="#a080c0" opacity="0.85"/><ellipse cx="328" cy="1037" rx="2.6" ry="1.0" fill="#a080c0" opacity="0.72"/><circle cx="362" cy="1035" r="1.1" fill="#d8b8e8" opacity="0.54"/><circle cx="412" cy="1083" r="1.7" fill="#a8c890" opacity="0.56"/><circle cx="657" cy="897" r="1.0" fill="#b890d0" opacity="0.81"/><circle cx="270" cy="1107" r="1.8" fill="#d0e0b0" opacity="0.41"/><circle cx="64" cy="892" r="1.5" fill="#c8a0dc" opacity="0.76"/><circle cx="120" cy="738" r="1.4" fill="#c0d8a0" opacity="0.76"/><circle cx="186" cy="1110" r="1.0" fill="#c0d8a0" opacity="0.49"/><circle cx="628" cy="975" r="2.2" fill="#c8a0dc" opacity="0.72"/><circle cx="595" cy="881" r="0.9" fill="#a080c0" opacity="0.80"/><circle cx="664" cy="1146" r="1.0" fill="#c8a0dc" opacity="0.68"/><circle cx="151" cy="711" r="1.3" fill="#a8c890" opacity="0.63"/><circle cx="106" cy="911" r="2.2" fill="#d8b8e8" opacity="0.48"/><circle cx="280" cy="1167" r="2.0" fill="#d0e0b0" opacity="0.51"/><circle cx="256" cy="955" r="1.0" fill="#c8a0dc" opacity="0.56"/><circle cx="661" cy="887" r="1.3" fill="#d8b8e8" opacity="0.64"/><circle cx="170" cy="1166" r="1.6" fill="#c0d8a0" opacity="0.64"/><circle cx="669" cy="808" r="1.6" fill="#c8a0dc" opacity="0.66"/><circle cx="501" cy="930" r="1.1" fill="#9070b0" opacity="0.50"/><circle cx="612" cy="921" r="1.3" fill="#a080c0" opacity="0.60"/><circle cx="86" cy="1095" r="2.0" fill="#d0e0b0" opacity="0.76"/><circle cx="375" cy="872" r="2.0" fill="#c8a0dc" opacity="0.88"/><circle cx="685" cy="980" r="1.7" fill="#b890d0" opacity="0.59"/><circle cx="123" cy="806" r="1.4" fill="#a8c890" opacity="0.57"/><circle cx="394" cy="643" r="0.8" fill="#c0d8a0" opacity="0.77"/><circle cx="582" cy="961" r="1.4" fill="#a080c0" opacity="0.78"/><circle cx="640" cy="970" r="1.1" fill="#c8a0dc" opacity="0.53"/><circle cx="530" cy="823" r="0.9" fill="#d8b8e8" opacity="0.44"/><circle cx="331" cy="1015" r="1.0" fill="#a080c0" opacity="0.56"/><circle cx="499" cy="873" r="1.0" fill="#c8a0dc" opacity="0.65"/><ellipse cx="517" cy="1046" rx="4.3" ry="1.8" fill="#c8a0dc" opacity="0.54"/><circle cx="73" cy="924" r="1.8" fill="#b890d0" opacity="0.66"/><circle cx="475" cy="875" r="1.7" fill="#c8a0dc" opacity="0.52"/><circle cx="496" cy="1002" r="0.9" fill="#a080c0" opacity="0.44"/><circle cx="685" cy="821" r="1.2" fill="#d8b8e8" opacity="0.51"/><circle cx="487" cy="874" r="1.0" fill="#c8a0dc" opacity="0.43"/><ellipse cx="212" cy="983" rx="2.9" ry="1.2" fill="#a080c0" opacity="0.53"/><circle cx="640" cy="947" r="1.4" fill="#c8a0dc" opacity="0.87"/><circle cx="348" cy="713" r="1.3" fill="#d0e0b0" opacity="0.41"/><circle cx="185" cy="1160" r="1.1" fill="#a8c890" opacity="0.56"/><circle cx="127" cy="936" r="1.4" fill="#b890d0" opacity="0.72"/><circle cx="606" cy="1032" r="1.0" fill="#a080c0" opacity="0.45"/><circle cx="141" cy="1119" r="0.8" fill="#d0e0b0" opacity="0.53"/><circle cx="630" cy="1070" r="2.0" fill="#9070b0" opacity="0.62"/><circle cx="550" cy="1100" r="1.5" fill="#d8b8e8" opacity="0.66"/><circle cx="260" cy="842" r="1.5" fill="#9070b0" opacity="0.89"/><circle cx="429" cy="659" r="1.1" fill="#d0e0b0" opacity="0.68"/><circle cx="547" cy="922" r="1.1" fill="#9070b0" opacity="0.67"/><circle cx="232" cy="1095" r="0.8" fill="#a8c890" opacity="0.69"/><ellipse cx="180" cy="885" rx="2.9" ry="1.2" fill="#d8b8e8" opacity="0.63"/><circle cx="275" cy="997" r="2.0" fill="#a080c0" opacity="0.73"/><circle cx="453" cy="1019" r="1.2" fill="#c8a0dc" opacity="0.57"/><circle cx="325" cy="972" r="2.0" fill="#d8b8e8" opacity="0.80"/><ellipse cx="358" cy="840" rx="2.6" ry="1.1" fill="#a080c0" opacity="0.42"/><circle cx="261" cy="868" r="2.1" fill="#d8b8e8" opacity="0.61"/><circle cx="639" cy="1107" r="1.3" fill="#b890d0" opacity="0.85"/><circle cx="166" cy="1063" r="1.3" fill="#c8a0dc" opacity="0.46"/><circle cx="116" cy="813" r="0.9" fill="#d0e0b0" opacity="0.48"/><circle cx="55" cy="1009" r="1.7" fill="#d8b8e8" opacity="0.45"/><circle cx="327" cy="1185" r="1.9" fill="#c0d8a0" opacity="0.45"/><circle cx="422" cy="844" r="0.9" fill="#9070b0" opacity="0.81"/><circle cx="544" cy="900" r="2.2" fill="#c8a0dc" opacity="0.73"/><circle cx="430" cy="732" r="1.5" fill="#a8c890" opacity="0.46"/><circle cx="661" cy="1177" r="1.9" fill="#a080c0" opacity="0.87"/><circle cx="243" cy="1118" r="1.6" fill="#c0d8a0" opacity="0.47"/><circle cx="45" cy="862" r="1.4" fill="#d8b8e8" opacity="0.66"/><circle cx="151" cy="918" r="1.5" fill="#d8b8e8" opacity="0.55"/><circle cx="185" cy="850" r="2.0" fill="#9070b0" opacity="0.71"/><circle cx="226" cy="682" r="1.9" fill="#c0d8a0" opacity="0.55"/><circle cx="679" cy="991" r="1.0" fill="#c8a0dc" opacity="0.57"/><circle cx="661" cy="835" r="1.4" fill="#b890d0" opacity="0.90"/><circle cx="386" cy="835" r="1.2" fill="#b890d0" opacity="0.79"/><circle cx="580" cy="843" r="1.8" fill="#c8a0dc" opacity="0.59"/><circle cx="250" cy="857" r="0.9" fill="#9070b0" opacity="0.64"/><circle cx="154" cy="992" r="1.8" fill="#d8b8e8" opacity="0.81"/><circle cx="496" cy="1062" r="1.7" fill="#d8b8e8" opacity="0.55"/><circle cx="506" cy="1041" r="1.0" fill="#d8b8e8" opacity="0.55"/><circle cx="395" cy="977" r="1.9" fill="#9070b0" opacity="0.82"/><circle cx="523" cy="812" r="1.0" fill="#d8b8e8" opacity="0.65"/><circle cx="148" cy="668" r="1.9" fill="#d0e0b0" opacity="0.41"/><circle cx="487" cy="930" r="2.0" fill="#b890d0" opacity="0.56"/><circle cx="57" cy="1034" r="0.9" fill="#d8b8e8" opacity="0.74"/><circle cx="432" cy="1173" r="1.7" fill="#f8e8d0" opacity="0.62"/><circle cx="227" cy="806" r="2.1" fill="#9070b0" opacity="0.64"/><circle cx="614" cy="847" r="1.6" fill="#a080c0" opacity="0.79"/><circle cx="187" cy="755" r="1.9" fill="#d0e0b0" opacity="0.54"/><circle cx="356" cy="981" r="1.9" fill="#d8b8e8" opacity="0.60"/><circle cx="363" cy="1140" r="1.9" fill="#c0d8a0" opacity="0.57"/><circle cx="213" cy="828" r="1.0" fill="#d8b8e8" opacity="0.59"/><circle cx="183" cy="877" r="0.8" fill="#d8b8e8" opacity="0.53"/><circle cx="399" cy="968" r="1.7" fill="#b890d0" opacity="0.75"/><circle cx="344" cy="1097" r="1.6" fill="#c0d8a0" opacity="0.46"/><circle cx="460" cy="904" r="0.9" fill="#b890d0" opacity="0.62"/><circle cx="680" cy="984" r="1.6" fill="#9070b0" opacity="0.49"/><circle cx="109" cy="1082" r="2.0" fill="#a8c890" opacity="0.46"/><ellipse cx="398" cy="1041" rx="2.1" ry="0.8" fill="#9070b0" opacity="0.84"/><circle cx="203" cy="682" r="1.0" fill="#a8c890" opacity="0.47"/><circle cx="42" cy="1144" r="1.0" fill="#d0e0b0" opacity="0.57"/><ellipse cx="335" cy="907" rx="1.8" ry="0.7" fill="#b890d0" opacity="0.50"/><circle cx="532" cy="863" r="2.1" fill="#a080c0" opacity="0.51"/><circle cx="420" cy="929" r="1.9" fill="#d8b8e8" opacity="0.49"/><circle cx="619" cy="861" r="1.7" fill="#9070b0" opacity="0.51"/><circle cx="626" cy="1186" r="1.7" fill="#f8e8d0" opacity="0.84"/><circle cx="624" cy="874" r="0.8" fill="#d8b8e8" opacity="0.71"/><circle cx="587" cy="895" r="1.0" fill="#d8b8e8" opacity="0.62"/><circle cx="646" cy="714" r="1.5" fill="#f8e8d0" opacity="0.70"/><ellipse cx="289" cy="1034" rx="3.4" ry="1.4" fill="#b890d0" opacity="0.57"/><circle cx="476" cy="794" r="1.9" fill="#d8b8e8" opacity="0.80"/><circle cx="235" cy="1067" r="2.1" fill="#b890d0" opacity="0.71"/><circle cx="357" cy="881" r="0.9" fill="#b890d0" opacity="0.59"/><circle cx="353" cy="1029" r="1.3" fill="#9070b0" opacity="0.78"/><circle cx="173" cy="879" r="1.9" fill="#d8b8e8" opacity="0.58"/><ellipse cx="471" cy="1073" rx="4.6" ry="1.9" fill="#a080c0" opacity="0.76"/><ellipse cx="55" cy="843" rx="2.2" ry="0.9" fill="#a080c0" opacity="0.44"/><circle cx="368" cy="989" r="1.9" fill="#9070b0" opacity="0.50"/><circle cx="131" cy="1090" r="1.2" fill="#c0d8a0" opacity="0.53"/><circle cx="666" cy="947" r="2.2" fill="#9070b0" opacity="0.87"/><circle cx="429" cy="1113" r="1.0" fill="#f8e8d0" opacity="0.84"/><circle cx="422" cy="1034" r="1.2" fill="#a080c0" opacity="0.54"/><circle cx="56" cy="888" r="1.3" fill="#9070b0" opacity="0.54"/><circle cx="97" cy="1079" r="1.3" fill="#c0d8a0" opacity="0.53"/><circle cx="581" cy="796" r="1.2" fill="#b890d0" opacity="0.61"/><circle cx="403" cy="679" r="1.8" fill="#a8c890" opacity="0.68"/><circle cx="643" cy="856" r="1.0" fill="#c8a0dc" opacity="0.55"/><circle cx="161" cy="991" r="1.5" fill="#a080c0" opacity="0.42"/><circle cx="663" cy="852" r="1.4" fill="#d8b8e8" opacity="0.73"/><circle cx="674" cy="793" r="1.7" fill="#a080c0" opacity="0.66"/><circle cx="656" cy="1170" r="1.9" fill="#9070b0" opacity="0.63"/><circle cx="198" cy="1046" r="1.8" fill="#b890d0" opacity="0.82"/><circle cx="215" cy="1071" r="1.3" fill="#a8c890" opacity="0.79"/><circle cx="99" cy="1129" r="1.4" fill="#c0d8a0" opacity="0.61"/><circle cx="135" cy="940" r="2.2" fill="#d8b8e8" opacity="0.89"/><ellipse cx="184" cy="893" rx="3.1" ry="1.3" fill="#a080c0" opacity="0.79"/><circle cx="654" cy="858" r="1.1" fill="#9070b0" opacity="0.45"/><ellipse cx="419" cy="914" rx="2.5" ry="1.0" fill="#d8b8e8" opacity="0.51"/><circle cx="424" cy="983" r="1.6" fill="#a080c0" opacity="0.67"/><ellipse cx="142" cy="934" rx="2.6" ry="1.1" fill="#a080c0" opacity="0.48"/><circle cx="679" cy="1070" r="1.7" fill="#d8b8e8" opacity="0.70"/><ellipse cx="568" cy="949" rx="2.8" ry="1.1" fill="#9070b0" opacity="0.59"/><circle cx="258" cy="1026" r="2.1" fill="#d8b8e8" opacity="0.73"/><ellipse cx="545" cy="882" rx="3.2" ry="1.3" fill="#9070b0" opacity="0.56"/><circle cx="258" cy="1161" r="2.0" fill="#c0d8a0" opacity="0.65"/><circle cx="154" cy="1173" r="0.9" fill="#a8c890" opacity="0.41"/><circle cx="614" cy="1047" r="1.5" fill="#c8a0dc" opacity="0.61"/><circle cx="547" cy="960" r="1.1" fill="#d8b8e8" opacity="0.72"/><circle cx="79" cy="1124" r="0.7" fill="#a8c890" opacity="0.48"/><circle cx="259" cy="642" r="0.8" fill="#a8c890" opacity="0.74"/><circle cx="359" cy="908" r="1.3" fill="#c8a0dc" opacity="0.69"/><circle cx="50" cy="847" r="1.2" fill="#9070b0" opacity="0.88"/><circle cx="364" cy="874" r="1.5" fill="#c8a0dc" opacity="0.46"/><circle cx="606" cy="1182" r="2.0" fill="#f8e8d0" opacity="0.91"/><circle cx="472" cy="788" r="2.1" fill="#a080c0" opacity="0.85"/><circle cx="415" cy="845" r="1.2" fill="#9070b0" opacity="0.71"/><circle cx="408" cy="1185" r="0.8" fill="#d0e0b0" opacity="0.65"/><circle cx="417" cy="716" r="1.6" fill="#d0e0b0" opacity="0.42"/><circle cx="229" cy="1004" r="1.0" fill="#c8a0dc" opacity="0.78"/><circle cx="584" cy="1048" r="1.8" fill="#9070b0" opacity="0.78"/><circle cx="134" cy="1081" r="1.8" fill="#a8c890" opacity="0.61"/><circle cx="292" cy="827" r="1.9" fill="#b890d0" opacity="0.82"/><ellipse cx="229" cy="840" rx="3.4" ry="1.4" fill="#a080c0" opacity="0.43"/><circle cx="525" cy="816" r="0.9" fill="#a080c0" opacity="0.47"/><ellipse cx="495" cy="957" rx="2.1" ry="0.9" fill="#a080c0" opacity="0.65"/><circle cx="573" cy="1090" r="1.1" fill="#b890d0" opacity="0.81"/><circle cx="43" cy="1116" r="1.8" fill="#c0d8a0" opacity="0.71"/><circle cx="205" cy="936" r="1.0" fill="#d8b8e8" opacity="0.84"/><circle cx="493" cy="1008" r="1.0" fill="#d8b8e8" opacity="0.78"/><circle cx="106" cy="791" r="1.7" fill="#d0e0b0" opacity="0.46"/><circle cx="111" cy="828" r="2.0" fill="#b890d0" opacity="0.50"/><circle cx="46" cy="1139" r="1.2" fill="#a8c890" opacity="0.67"/><circle cx="607" cy="862" r="1.4" fill="#c8a0dc" opacity="0.60"/><circle cx="422" cy="876" r="1.3" fill="#a080c0" opacity="0.67"/><ellipse cx="124" cy="848" rx="2.7" ry="1.1" fill="#d8b8e8" opacity="0.55"/><circle cx="325" cy="881" r="1.1" fill="#a080c0" opacity="0.55"/><circle cx="319" cy="909" r="1.4" fill="#b890d0" opacity="0.65"/><circle cx="143" cy="875" r="2.2" fill="#a080c0" opacity="0.84"/><circle cx="666" cy="825" r="1.7" fill="#9070b0" opacity="0.72"/><circle cx="639" cy="1001" r="1.2" fill="#9070b0" opacity="0.46"/><circle cx="579" cy="794" r="2.0" fill="#9070b0" opacity="0.64"/><ellipse cx="572" cy="842" rx="4.3" ry="1.8" fill="#b890d0" opacity="0.61"/><circle cx="686" cy="1039" r="1.8" fill="#c8a0dc" opacity="0.44"/><circle cx="185" cy="843" r="1.4" fill="#9070b0" opacity="0.73"/><circle cx="336" cy="875" r="1.3" fill="#b890d0" opacity="0.43"/><circle cx="419" cy="883" r="2.2" fill="#a080c0" opacity="0.73"/><ellipse cx="683" cy="818" rx="2.9" ry="1.2" fill="#a080c0" opacity="0.77"/><circle cx="365" cy="918" r="1.7" fill="#b890d0" opacity="0.43"/><circle cx="624" cy="862" r="0.9" fill="#c8a0dc" opacity="0.49"/><circle cx="276" cy="713" r="1.1" fill="#c0d8a0" opacity="0.42"/><circle cx="223" cy="882" r="1.1" fill="#b890d0" opacity="0.63"/><circle cx="129" cy="1031" r="1.9" fill="#9070b0" opacity="0.43"/><circle cx="401" cy="848" r="1.7" fill="#d8b8e8" opacity="0.41"/><circle cx="604" cy="1069" r="1.8" fill="#d8b8e8" opacity="0.65"/><circle cx="351" cy="832" r="1.8" fill="#a080c0" opacity="0.44"/><circle cx="414" cy="1052" r="1.6" fill="#a080c0" opacity="0.72"/><circle cx="364" cy="876" r="1.7" fill="#9070b0" opacity="0.78"/><circle cx="66" cy="1062" r="1.0" fill="#c0d8a0" opacity="0.68"/><circle cx="231" cy="1016" r="1.0" fill="#a080c0" opacity="0.80"/><circle cx="589" cy="793" r="1.5" fill="#b890d0" opacity="0.76"/><circle cx="243" cy="825" r="0.9" fill="#d8b8e8" opacity="0.86"/><ellipse cx="137" cy="864" rx="2.6" ry="1.1" fill="#d8b8e8" opacity="0.78"/><circle cx="104" cy="774" r="1.4" fill="#a8c890" opacity="0.78"/><circle cx="225" cy="1050" r="1.8" fill="#9070b0" opacity="0.57"/><circle cx="670" cy="1039" r="1.1" fill="#b890d0" opacity="0.56"/><circle cx="242" cy="643" r="1.9" fill="#c0d8a0" opacity="0.55"/><circle cx="455" cy="825" r="1.5" fill="#a080c0" opacity="0.53"/><circle cx="331" cy="804" r="1.5" fill="#c8a0dc" opacity="0.57"/><circle cx="554" cy="946" r="1.5" fill="#d8b8e8" opacity="0.86"/><ellipse cx="209" cy="1017" rx="2.5" ry="1.0" fill="#b890d0" opacity="0.84"/><circle cx="269" cy="911" r="1.7" fill="#b890d0" opacity="0.73"/><circle cx="377" cy="899" r="0.9" fill="#d8b8e8" opacity="0.42"/><circle cx="124" cy="755" r="1.7" fill="#a8c890" opacity="0.54"/><circle cx="431" cy="690" r="1.9" fill="#d0e0b0" opacity="0.69"/><circle cx="247" cy="1014" r="1.4" fill="#9070b0" opacity="0.42"/><circle cx="237" cy="937" r="0.8" fill="#a080c0" opacity="0.49"/><ellipse cx="265" cy="957" rx="2.3" ry="1.0" fill="#c8a0dc" opacity="0.88"/><circle cx="498" cy="1038" r="1.6" fill="#c8a0dc" opacity="0.66"/><circle cx="651" cy="1001" r="1.2" fill="#c8a0dc" opacity="0.61"/><circle cx="384" cy="785" r="1.3" fill="#c0d8a0" opacity="0.50"/><circle cx="60" cy="987" r="1.7" fill="#d8b8e8" opacity="0.47"/><circle cx="654" cy="637" r="1.5" fill="#f8e8d0" opacity="0.95"/><circle cx="69" cy="1020" r="1.5" fill="#a080c0" opacity="0.49"/><circle cx="160" cy="922" r="1.0" fill="#c8a0dc" opacity="0.56"/><circle cx="122" cy="867" r="0.8" fill="#a080c0" opacity="0.64"/><circle cx="493" cy="1039" r="1.9" fill="#d8b8e8" opacity="0.78"/><circle cx="135" cy="1012" r="1.4" fill="#a080c0" opacity="0.48"/><circle cx="575" cy="1081" r="2.2" fill="#c8a0dc" opacity="0.77"/><circle cx="118" cy="1049" r="1.3" fill="#9070b0" opacity="0.79"/><circle cx="423" cy="909" r="1.9" fill="#9070b0" opacity="0.43"/><circle cx="377" cy="717" r="1.0" fill="#d0e0b0" opacity="0.44"/><ellipse cx="53" cy="1035" rx="3.0" ry="1.2" fill="#a080c0" opacity="0.49"/><circle cx="66" cy="948" r="1.0" fill="#c8a0dc" opacity="0.87"/><circle cx="343" cy="814" r="0.9" fill="#b890d0" opacity="0.82"/><ellipse cx="207" cy="1022" rx="4.2" ry="1.7" fill="#a080c0" opacity="0.62"/><circle cx="162" cy="1083" r="1.7" fill="#a8c890" opacity="0.64"/><circle cx="679" cy="1031" r="1.4" fill="#b890d0" opacity="0.88"/><circle cx="182" cy="1036" r="1.4" fill="#9070b0" opacity="0.64"/><circle cx="645" cy="977" r="0.9" fill="#9070b0" opacity="0.40"/><circle cx="368" cy="1033" r="2.2" fill="#9070b0" opacity="0.51"/><circle cx="413" cy="815" r="1.4" fill="#b890d0" opacity="0.76"/><circle cx="668" cy="1038" r="0.9" fill="#9070b0" opacity="0.41"/><ellipse cx="332" cy="813" rx="2.4" ry="1.0" fill="#d8b8e8" opacity="0.67"/><circle cx="676" cy="783" r="2.1" fill="#d8b8e8" opacity="0.62"/><circle cx="232" cy="1023" r="1.1" fill="#9070b0" opacity="0.48"/><circle cx="127" cy="753" r="1.1" fill="#a8c890" opacity="0.56"/><circle cx="349" cy="855" r="1.9" fill="#c8a0dc" opacity="0.61"/><ellipse cx="275" cy="1022" rx="3.2" ry="1.3" fill="#9070b0" opacity="0.70"/><ellipse cx="478" cy="1049" rx="2.3" ry="1.0" fill="#d8b8e8" opacity="0.45"/><circle cx="234" cy="912" r="1.6" fill="#d8b8e8" opacity="0.81"/><ellipse cx="480" cy="1021" rx="1.9" ry="0.8" fill="#9070b0" opacity="0.73"/><circle cx="574" cy="960" r="1.4" fill="#b890d0" opacity="0.64"/><circle cx="564" cy="887" r="2.0" fill="#d8b8e8" opacity="0.53"/><ellipse cx="118" cy="997" rx="2.9" ry="1.2" fill="#9070b0" opacity="0.55"/><circle cx="483" cy="791" r="1.2" fill="#c8a0dc" opacity="0.52"/><circle cx="97" cy="847" r="1.6" fill="#a080c0" opacity="0.57"/><circle cx="233" cy="955" r="2.1" fill="#9070b0" opacity="0.49"/><circle cx="374" cy="899" r="1.6" fill="#a080c0" opacity="0.85"/><circle cx="69" cy="1095" r="0.7" fill="#c0d8a0" opacity="0.41"/><ellipse cx="619" cy="994" rx="3.4" ry="1.4" fill="#d8b8e8" opacity="0.56"/><circle cx="149" cy="858" r="1.0" fill="#a080c0" opacity="0.47"/><circle cx="197" cy="840" r="1.9" fill="#9070b0" opacity="0.56"/><circle cx="552" cy="952" r="1.0" fill="#d8b8e8" opacity="0.70"/><circle cx="254" cy="1114" r="0.7" fill="#c0d8a0" opacity="0.68"/><circle cx="557" cy="1076" r="2.0" fill="#d8b8e8" opacity="0.43"/><circle cx="640" cy="888" r="1.7" fill="#c8a0dc" opacity="0.57"/><circle cx="374" cy="1048" r="2.0" fill="#d8b8e8" opacity="0.76"/><circle cx="484" cy="832" r="1.6" fill="#9070b0" opacity="0.58"/><circle cx="615" cy="1079" r="1.2" fill="#c8a0dc" opacity="0.75"/><circle cx="321" cy="657" r="1.9" fill="#d0e0b0" opacity="0.47"/><ellipse cx="633" cy="933" rx="2.2" ry="0.9" fill="#b890d0" opacity="0.45"/><ellipse cx="477" cy="990" rx="4.2" ry="1.7" fill="#c8a0dc" opacity="0.87"/><circle cx="386" cy="1062" r="1.0" fill="#9070b0" opacity="0.83"/><circle cx="415" cy="1172" r="1.7" fill="#c0d8a0" opacity="0.67"/><circle cx="239" cy="1040" r="1.5" fill="#c8a0dc" opacity="0.58"/><circle cx="485" cy="885" r="1.6" fill="#9070b0" opacity="0.57"/><ellipse cx="299" cy="949" rx="1.8" ry="0.8" fill="#a080c0" opacity="0.42"/><circle cx="91" cy="951" r="1.3" fill="#d8b8e8" opacity="0.73"/><circle cx="330" cy="934" r="2.0" fill="#a080c0" opacity="0.69"/><ellipse cx="391" cy="904" rx="4.4" ry="1.8" fill="#b890d0" opacity="0.81"/><circle cx="122" cy="826" r="1.0" fill="#a080c0" opacity="0.86"/><circle cx="177" cy="767" r="1.0" fill="#a8c890" opacity="0.51"/><circle cx="79" cy="928" r="1.2" fill="#9070b0" opacity="0.59"/><circle cx="534" cy="953" r="1.7" fill="#b890d0" opacity="0.64"/><circle cx="570" cy="906" r="1.0" fill="#d8b8e8" opacity="0.58"/><circle cx="432" cy="817" r="1.6" fill="#d8b8e8" opacity="0.59"/><ellipse cx="654" cy="1125" rx="2.8" ry="1.1" fill="#d8b8e8" opacity="0.81"/><circle cx="341" cy="1180" r="1.1" fill="#d0e0b0" opacity="0.44"/><circle cx="206" cy="649" r="1.9" fill="#d0e0b0" opacity="0.66"/><circle cx="89" cy="943" r="1.8" fill="#a080c0" opacity="0.84"/><circle cx="207" cy="838" r="1.6" fill="#b890d0" opacity="0.68"/><circle cx="339" cy="964" r="1.3" fill="#9070b0" opacity="0.75"/><circle cx="514" cy="1006" r="2.0" fill="#a080c0" opacity="0.71"/><ellipse cx="264" cy="861" rx="4.4" ry="1.8" fill="#d8b8e8" opacity="0.61"/><circle cx="102" cy="1030" r="1.0" fill="#d8b8e8" opacity="0.62"/><circle cx="482" cy="1032" r="1.8" fill="#c8a0dc" opacity="0.70"/><circle cx="54" cy="874" r="1.1" fill="#9070b0" opacity="0.45"/><circle cx="645" cy="989" r="1.1" fill="#b890d0" opacity="0.51"/><circle cx="680" cy="815" r="1.2" fill="#a080c0" opacity="0.87"/><circle cx="347" cy="722" r="1.2" fill="#d0e0b0" opacity="0.44"/><circle cx="448" cy="886" r="2.1" fill="#c8a0dc" opacity="0.44"/><circle cx="309" cy="1176" r="1.2" fill="#a8c890" opacity="0.60"/><circle cx="644" cy="794" r="0.9" fill="#9070b0" opacity="0.90"/><circle cx="202" cy="1017" r="2.2" fill="#a080c0" opacity="0.65"/><circle cx="391" cy="1072" r="1.0" fill="#b890d0" opacity="0.57"/><circle cx="450" cy="1150" r="1.9" fill="#f8e8d0" opacity="0.62"/><ellipse cx="66" cy="874" rx="1.8" ry="0.8" fill="#9070b0" opacity="0.87"/><circle cx="531" cy="826" r="1.3" fill="#b890d0" opacity="0.58"/><circle cx="393" cy="781" r="1.7" fill="#c0d8a0" opacity="0.78"/><circle cx="51" cy="1027" r="2.1" fill="#c8a0dc" opacity="0.79"/><circle cx="381" cy="868" r="1.4" fill="#c8a0dc" opacity="0.86"/><circle cx="477" cy="984" r="1.2" fill="#d8b8e8" opacity="0.78"/><circle cx="345" cy="794" r="2.0" fill="#c8a0dc" opacity="0.43"/><circle cx="626" cy="1086" r="0.8" fill="#a080c0" opacity="0.83"/><circle cx="216" cy="851" r="2.0" fill="#9070b0" opacity="0.81"/><circle cx="194" cy="1110" r="0.9" fill="#c0d8a0" opacity="0.68"/><circle cx="378" cy="1020" r="2.2" fill="#9070b0" opacity="0.69"/><circle cx="543" cy="1149" r="2.4" fill="#f8e8d0" opacity="0.86"/><circle cx="188" cy="815" r="1.3" fill="#c8a0dc" opacity="0.57"/><circle cx="366" cy="1092" r="1.0" fill="#c0d8a0" opacity="0.71"/><circle cx="260" cy="864" r="1.8" fill="#b890d0" opacity="0.55"/><ellipse cx="519" cy="953" rx="3.0" ry="1.2" fill="#9070b0" opacity="0.59"/><circle cx="110" cy="935" r="1.5" fill="#c8a0dc" opacity="0.77"/><circle cx="175" cy="1035" r="2.0" fill="#9070b0" opacity="0.66"/><circle cx="262" cy="888" r="2.2" fill="#a080c0" opacity="0.53"/><circle cx="631" cy="955" r="1.7" fill="#9070b0" opacity="0.80"/><circle cx="462" cy="1042" r="1.6" fill="#b890d0" opacity="0.44"/><ellipse cx="517" cy="990" rx="4.4" ry="1.8" fill="#b890d0" opacity="0.65"/><circle cx="210" cy="847" r="1.1" fill="#c8a0dc" opacity="0.81"/><ellipse cx="137" cy="915" rx="2.7" ry="1.1" fill="#9070b0" opacity="0.65"/><circle cx="193" cy="1134" r="1.3" fill="#a8c890" opacity="0.76"/><circle cx="121" cy="913" r="1.6" fill="#c8a0dc" opacity="0.40"/><circle cx="385" cy="999" r="1.1" fill="#9070b0" opacity="0.83"/><circle cx="91" cy="1061" r="0.9" fill="#c0d8a0" opacity="0.63"/><circle cx="669" cy="1152" r="2.2" fill="#d8b8e8" opacity="0.87"/><circle cx="413" cy="1008" r="1.1" fill="#a080c0" opacity="0.61"/><circle cx="385" cy="725" r="1.8" fill="#d0e0b0" opacity="0.65"/><circle cx="381" cy="1108" r="1.7" fill="#d0e0b0" opacity="0.78"/><circle cx="176" cy="737" r="1.2" fill="#d0e0b0" opacity="0.75"/><circle cx="431" cy="680" r="1.7" fill="#d0e0b0" opacity="0.57"/><circle cx="665" cy="842" r="1.8" fill="#9070b0" opacity="0.61"/><circle cx="506" cy="989" r="2.1" fill="#d8b8e8" opacity="0.78"/><circle cx="410" cy="878" r="1.1" fill="#a080c0" opacity="0.51"/><circle cx="359" cy="872" r="1.8" fill="#d8b8e8" opacity="0.89"/><circle cx="650" cy="883" r="1.3" fill="#c8a0dc" opacity="0.73"/><circle cx="582" cy="800" r="1.5" fill="#c8a0dc" opacity="0.44"/><circle cx="329" cy="828" r="1.5" fill="#9070b0" opacity="0.57"/><circle cx="339" cy="982" r="0.9" fill="#d8b8e8" opacity="0.54"/><circle cx="249" cy="1046" r="1.5" fill="#c8a0dc" opacity="0.47"/><circle cx="407" cy="959" r="1.5" fill="#c8a0dc" opacity="0.72"/><circle cx="578" cy="820" r="0.9" fill="#b890d0" opacity="0.67"/><circle cx="85" cy="1048" r="1.3" fill="#a080c0" opacity="0.54"/><circle cx="281" cy="788" r="1.8" fill="#a8c890" opacity="0.47"/><ellipse cx="523" cy="938" rx="4.7" ry="1.9" fill="#a080c0" opacity="0.80"/><circle cx="310" cy="1069" r="1.8" fill="#c8a0dc" opacity="0.46"/><circle cx="351" cy="778" r="0.9" fill="#c0d8a0" opacity="0.73"/><circle cx="187" cy="782" r="0.7" fill="#d0e0b0" opacity="0.77"/><circle cx="510" cy="917" r="1.7" fill="#c8a0dc" opacity="0.88"/><circle cx="75" cy="1118" r="0.9" fill="#c0d8a0" opacity="0.65"/><circle cx="634" cy="1163" r="1.1" fill="#f8e8d0" opacity="0.67"/><circle cx="551" cy="826" r="1.2" fill="#c8a0dc" opacity="0.86"/><circle cx="87" cy="850" r="1.4" fill="#d8b8e8" opacity="0.79"/><circle cx="115" cy="772" r="1.9" fill="#a8c890" opacity="0.47"/><circle cx="245" cy="814" r="1.3" fill="#b890d0" opacity="0.49"/><circle cx="679" cy="641" r="1.8" fill="#f8e8d0" opacity="0.86"/><circle cx="189" cy="661" r="0.8" fill="#a8c890" opacity="0.79"/><ellipse cx="123" cy="917" rx="3.2" ry="1.3" fill="#a080c0" opacity="0.82"/><circle cx="254" cy="683" r="1.2" fill="#c0d8a0" opacity="0.51"/><circle cx="122" cy="1074" r="1.7" fill="#c0d8a0" opacity="0.64"/><circle cx="446" cy="1110" r="0.9" fill="#f8e8d0" opacity="0.94"/><circle cx="212" cy="781" r="1.8" fill="#a8c890" opacity="0.76"/><circle cx="406" cy="972" r="0.8" fill="#9070b0" opacity="0.50"/><circle cx="370" cy="655" r="0.8" fill="#c0d8a0" opacity="0.43"/><circle cx="273" cy="1169" r="1.5" fill="#d0e0b0" opacity="0.58"/><circle cx="79" cy="1011" r="1.4" fill="#a080c0" opacity="0.89"/><circle cx="159" cy="957" r="1.2" fill="#a080c0" opacity="0.41"/><circle cx="602" cy="1140" r="1.0" fill="#f8e8d0" opacity="0.65"/><circle cx="197" cy="818" r="1.0" fill="#d8b8e8" opacity="0.85"/><circle cx="202" cy="674" r="1.5" fill="#d0e0b0" opacity="0.52"/><circle cx="118" cy="921" r="2.0" fill="#d8b8e8" opacity="0.72"/><circle cx="640" cy="942" r="2.1" fill="#a080c0" opacity="0.41"/><circle cx="250" cy="1167" r="0.8" fill="#d0e0b0" opacity="0.59"/><circle cx="642" cy="1057" r="0.9" fill="#c8a0dc" opacity="0.59"/><circle cx="108" cy="979" r="0.9" fill="#a080c0" opacity="0.63"/><circle cx="602" cy="993" r="1.9" fill="#c8a0dc" opacity="0.53"/><ellipse cx="309" cy="1009" rx="2.3" ry="0.9" fill="#9070b0" opacity="0.75"/><circle cx="83" cy="944" r="2.1" fill="#9070b0" opacity="0.62"/><circle cx="436" cy="817" r="1.9" fill="#b890d0" opacity="0.85"/><ellipse cx="622" cy="1106" rx="2.4" ry="1.0" fill="#b890d0" opacity="0.78"/><circle cx="604" cy="936" r="2.1" fill="#a080c0" opacity="0.89"/><circle cx="628" cy="1071" r="2.0" fill="#b890d0" opacity="0.65"/><circle cx="470" cy="1028" r="1.4" fill="#d8b8e8" opacity="0.86"/><circle cx="391" cy="724" r="1.1" fill="#a8c890" opacity="0.43"/><circle cx="354" cy="1003" r="1.5" fill="#b890d0" opacity="0.44"/><circle cx="471" cy="797" r="1.0" fill="#9070b0" opacity="0.82"/><circle cx="290" cy="777" r="1.4" fill="#a8c890" opacity="0.46"/><circle cx="595" cy="792" r="1.9" fill="#b890d0" opacity="0.70"/><circle cx="92" cy="1120" r="1.6" fill="#d0e0b0" opacity="0.60"/><circle cx="333" cy="664" r="0.8" fill="#c0d8a0" opacity="0.60"/><circle cx="209" cy="759" r="1.6" fill="#d0e0b0" opacity="0.76"/><circle cx="670" cy="788" r="1.5" fill="#c8a0dc" opacity="0.45"/><circle cx="392" cy="703" r="1.3" fill="#a8c890" opacity="0.74"/><circle cx="602" cy="1034" r="1.6" fill="#b890d0" opacity="0.43"/><circle cx="460" cy="850" r="1.4" fill="#9070b0" opacity="0.58"/><circle cx="278" cy="937" r="1.1" fill="#9070b0" opacity="0.72"/><circle cx="82" cy="946" r="1.8" fill="#b890d0" opacity="0.47"/><circle cx="281" cy="1149" r="0.9" fill="#c0d8a0" opacity="0.62"/><circle cx="575" cy="1082" r="1.7" fill="#9070b0" opacity="0.49"/><circle cx="253" cy="1111" r="1.7" fill="#d0e0b0" opacity="0.42"/><circle cx="274" cy="850" r="2.0" fill="#9070b0" opacity="0.51"/><ellipse cx="97" cy="860" rx="1.9" ry="0.8" fill="#a080c0" opacity="0.87"/><circle cx="210" cy="869" r="1.9" fill="#a080c0" opacity="0.76"/><ellipse cx="497" cy="1068" rx="4.6" ry="1.9" fill="#b890d0" opacity="0.76"/><circle cx="480" cy="837" r="2.1" fill="#d8b8e8" opacity="0.86"/><circle cx="389" cy="702" r="1.8" fill="#d0e0b0" opacity="0.68"/><circle cx="231" cy="888" r="1.6" fill="#9070b0" opacity="0.73"/><circle cx="161" cy="1002" r="1.3" fill="#b890d0" opacity="0.80"/><ellipse cx="342" cy="1023" rx="4.1" ry="1.7" fill="#d8b8e8" opacity="0.44"/><circle cx="118" cy="676" r="1.5" fill="#f8e8d0" opacity="0.92"/><circle cx="243" cy="1185" r="2.0" fill="#c0d8a0" opacity="0.43"/><circle cx="166" cy="843" r="1.2" fill="#d8b8e8" opacity="0.71"/><circle cx="317" cy="716" r="1.4" fill="#c0d8a0" opacity="0.51"/><ellipse cx="319" cy="957" rx="4.1" ry="1.7" fill="#9070b0" opacity="0.73"/><circle cx="464" cy="844" r="1.5" fill="#b890d0" opacity="0.80"/><circle cx="295" cy="944" r="1.4" fill="#9070b0" opacity="0.68"/><circle cx="542" cy="999" r="1.9" fill="#9070b0" opacity="0.43"/><circle cx="369" cy="850" r="2.0" fill="#b890d0" opacity="0.73"/><circle cx="683" cy="1001" r="1.5" fill="#c8a0dc" opacity="0.60"/><circle cx="342" cy="659" r="1.3" fill="#a8c890" opacity="0.65"/><circle cx="657" cy="822" r="2.0" fill="#a080c0" opacity="0.82"/><circle cx="336" cy="854" r="1.9" fill="#9070b0" opacity="0.71"/><circle cx="125" cy="655" r="1.8" fill="#f8e8d0" opacity="0.73"/><circle cx="535" cy="1148" r="2.1" fill="#f8e8d0" opacity="0.73"/><circle cx="161" cy="1029" r="1.9" fill="#a080c0" opacity="0.86"/><circle cx="393" cy="831" r="0.9" fill="#c8a0dc" opacity="0.66"/><circle cx="491" cy="968" r="1.3" fill="#a080c0" opacity="0.80"/><circle cx="512" cy="884" r="1.2" fill="#a080c0" opacity="0.60"/><circle cx="187" cy="903" r="1.8" fill="#d8b8e8" opacity="0.83"/><circle cx="229" cy="727" r="1.9" fill="#a8c890" opacity="0.46"/><circle cx="593" cy="922" r="0.9" fill="#d8b8e8" opacity="0.86"/><circle cx="582" cy="696" r="1.9" fill="#f8e8d0" opacity="0.81"/><circle cx="562" cy="882" r="1.6" fill="#9070b0" opacity="0.49"/><circle cx="384" cy="863" r="0.9" fill="#b890d0" opacity="0.43"/><ellipse cx="225" cy="894" rx="4.4" ry="1.8" fill="#9070b0" opacity="0.85"/><circle cx="384" cy="673" r="1.7" fill="#c0d8a0" opacity="0.61"/><circle cx="245" cy="1105" r="2.0" fill="#d0e0b0" opacity="0.41"/><circle cx="146" cy="1052" r="0.8" fill="#c8a0dc" opacity="0.51"/><circle cx="369" cy="707" r="1.3" fill="#d0e0b0" opacity="0.74"/><circle cx="383" cy="729" r="1.1" fill="#c0d8a0" opacity="0.53"/><circle cx="276" cy="834" r="1.2" fill="#d8b8e8" opacity="0.72"/><circle cx="492" cy="860" r="1.8" fill="#9070b0" opacity="0.53"/><ellipse cx="570" cy="1095" rx="2.2" ry="0.9" fill="#9070b0" opacity="0.53"/><circle cx="46" cy="920" r="1.6" fill="#c8a0dc" opacity="0.90"/><circle cx="631" cy="1023" r="1.5" fill="#b890d0" opacity="0.52"/><circle cx="277" cy="1123" r="1.6" fill="#d0e0b0" opacity="0.70"/><circle cx="670" cy="1040" r="2.0" fill="#9070b0" opacity="0.88"/><circle cx="535" cy="917" r="1.6" fill="#a080c0" opacity="0.44"/><ellipse cx="614" cy="804" rx="4.0" ry="1.6" fill="#a080c0" opacity="0.84"/><circle cx="662" cy="953" r="1.8" fill="#a080c0" opacity="0.71"/><circle cx="390" cy="1163" r="1.3" fill="#a8c890" opacity="0.68"/><circle cx="487" cy="918" r="1.6" fill="#9070b0" opacity="0.40"/><circle cx="669" cy="749" r="1.6" fill="#f8e8d0" opacity="0.69"/><circle cx="113" cy="638" r="1.3" fill="#f8e8d0" opacity="0.89"/><circle cx="204" cy="1166" r="1.6" fill="#d0e0b0" opacity="0.68"/><circle cx="582" cy="1135" r="2.0" fill="#f8e8d0" opacity="0.63"/><circle cx="563" cy="878" r="1.0" fill="#c8a0dc" opacity="0.52"/><circle cx="246" cy="935" r="2.2" fill="#9070b0" opacity="0.67"/><circle cx="432" cy="797" r="2.2" fill="#a080c0" opacity="0.83"/><circle cx="618" cy="1056" r="1.0" fill="#9070b0" opacity="0.65"/><ellipse cx="111" cy="966" rx="4.2" ry="1.7" fill="#d8b8e8" opacity="0.74"/></g>
<polyline points="421,784 419,900 418,1074" fill="none" stroke="#8a5a9a" stroke-width="1.4" opacity="0.35"/>
<rect x="80" y="630.5" width="381" height="2" fill="#b8c0b0" opacity="0.8"/>
</g>
<line x1="415" y1="688.5" x2="480" y2="703.6" stroke="#e8202a" stroke-width="2.5" stroke-dasharray="6,3"/>
<line x1="621.3" y1="714" x2="621.3" y2="913" stroke="#111" stroke-width="2.5" stroke-dasharray="6,3"/>
<line x1="349.8" y1="1038" x2="481.2" y2="1111.8" stroke="#2a8ad8" stroke-width="2.5" stroke-dasharray="6,3"/>
<text transform="matrix(0.3751,0.0000,0.0000,0.3831,204.70,699.12)" font-family="'Liberation Sans', Arial, sans-serif" font-size="100" fill="#fff">MoS</text>
<text transform="matrix(0.2804,0.0000,0.0000,0.2600,281.50,707.20)" font-family="'Liberation Sans', Arial, sans-serif" font-size="100" fill="#fff">2</text>
<text transform="matrix(0.3833,0.0000,0.0000,0.3971,523.53,967.40)" font-family="'Liberation Sans', Arial, sans-serif" font-size="100" fill="#fff">BP</text>
<text transform="matrix(0.3000,0.0000,0.0000,0.2943,70.10,1145.80)" font-family="'Liberation Sans', Arial, sans-serif" font-size="100" fill="#fff">2</text>
<text transform="matrix(0.2906,0.0000,0.0000,0.3055,94.37,1146.20)" font-family="'Liberation Sans', Arial, sans-serif" font-size="100" fill="#fff">μm</text>
<rect x="68.5" y="1102.9" width="67.1" height="11" fill="#fff"/>
<text transform="matrix(0.4062,0.0000,0.0000,0.4380,-0.32,646.66)" font-family="'Liberation Sans', Arial, sans-serif" font-weight="bold" font-size="100" fill="#000">C</text>
<text transform="matrix(0.4115,0.0000,0.0000,0.4362,760.92,646.90)" font-family="'Liberation Sans', Arial, sans-serif" font-weight="bold" font-size="100" fill="#000">D</text>
<rect x="840.2" y="630.5" width="647.8" height="166.5" fill="none" stroke="#111" stroke-width="2.4"/>
<rect x="836.8" y="826.4" width="651.2" height="162.89999999999998" fill="none" stroke="#111" stroke-width="2.4"/>
<rect x="838.6" y="1020.5" width="649.4" height="170.29999999999995" fill="none" stroke="#111" stroke-width="2.4"/>
<line x1="840.2" y1="659.9" x2="847.5" y2="659.9" stroke="#111" stroke-width="2"/>
<text transform="matrix(0.2563,0,0,0.2014,831.20,665.10)" font-family="'Liberation Sans', Arial, sans-serif" font-size="100" text-anchor="end" fill="#1a1a1a">4</text>
<line x1="840.2" y1="699.1" x2="847.5" y2="699.1" stroke="#111" stroke-width="2"/>
<text transform="matrix(0.2563,0,0,0.2014,831.20,704.30)" font-family="'Liberation Sans', Arial, sans-serif" font-size="100" text-anchor="end" fill="#1a1a1a">2</text>
<line x1="840.2" y1="738.7" x2="847.5" y2="738.7" stroke="#111" stroke-width="2"/>
<text transform="matrix(0.2563,0,0,0.2014,831.20,743.90)" font-family="'Liberation Sans', Arial, sans-serif" font-size="100" text-anchor="end" fill="#1a1a1a">0</text>
<line x1="840.2" y1="777.8" x2="847.5" y2="777.8" stroke="#111" stroke-width="2"/>
<text transform="matrix(0.2563,0,0,0.2014,831.20,783.00)" font-family="'Liberation Sans', Arial, sans-serif" font-size="100" text-anchor="end" fill="#1a1a1a">−2</text>
<line x1="840.2" y1="640.1" x2="844.5" y2="640.1" stroke="#111" stroke-width="2"/>
<line x1="840.2" y1="679.9" x2="844.5" y2="679.9" stroke="#111" stroke-width="2"/>
<line x1="840.2" y1="719.4" x2="844.5" y2="719.4" stroke="#111" stroke-width="2"/>
<line x1="840.2" y1="759.2" x2="844.5" y2="759.2" stroke="#111" stroke-width="2"/>
<line x1="840.2" y1="797" x2="840.2" y2="790" stroke="#111" stroke-width="2"/>
<text transform="matrix(0.2646,0,0,0.1901,840.20,817.91)" font-family="'Liberation Sans', Arial, sans-serif" font-size="100" text-anchor="middle" fill="#1a1a1a">0</text>
<line x1="894.2" y1="797" x2="894.2" y2="793" stroke="#111" stroke-width="2"/>
<line x1="948.2" y1="797" x2="948.2" y2="790" stroke="#111" stroke-width="2"/>
<text transform="matrix(0.2646,0,0,0.1901,948.17,817.91)" font-family="'Liberation Sans', Arial, sans-serif" font-size="100" text-anchor="middle" fill="#1a1a1a">1</text>
<line x1="1002.2" y1="797" x2="1002.2" y2="793" stroke="#111" stroke-width="2"/>
<line x1="1056.1" y1="797" x2="1056.1" y2="790" stroke="#111" stroke-width="2"/>
<text transform="matrix(0.2646,0,0,0.1901,1056.13,817.91)" font-family="'Liberation Sans', Arial, sans-serif" font-size="100" text-anchor="middle" fill="#1a1a1a">2</text>
<line x1="1110.1" y1="797" x2="1110.1" y2="793" stroke="#111" stroke-width="2"/>
<line x1="1164.1" y1="797" x2="1164.1" y2="790" stroke="#111" stroke-width="2"/>
<text transform="matrix(0.2646,0,0,0.1901,1164.10,817.91)" font-family="'Liberation Sans', Arial, sans-serif" font-size="100" text-anchor="middle" fill="#1a1a1a">3</text>
<line x1="1218.1" y1="797" x2="1218.1" y2="793" stroke="#111" stroke-width="2"/>
<line x1="1272.1" y1="797" x2="1272.1" y2="790" stroke="#111" stroke-width="2"/>
<text transform="matrix(0.2646,0,0,0.1901,1272.07,817.91)" font-family="'Liberation Sans', Arial, sans-serif" font-size="100" text-anchor="middle" fill="#1a1a1a">4</text>
<line x1="1326.0" y1="797" x2="1326.0" y2="793" stroke="#111" stroke-width="2"/>
<line x1="1380.0" y1="797" x2="1380.0" y2="790" stroke="#111" stroke-width="2"/>
<text transform="matrix(0.2646,0,0,0.1901,1380.03,817.91)" font-family="'Liberation Sans', Arial, sans-serif" font-size="100" text-anchor="middle" fill="#1a1a1a">5</text>
<line x1="1434.0" y1="797" x2="1434.0" y2="793" stroke="#111" stroke-width="2"/>
<line x1="1488.0" y1="797" x2="1488.0" y2="790" stroke="#111" stroke-width="2"/>
<text transform="matrix(0.2646,0,0,0.1901,1488.00,817.91)" font-family="'Liberation Sans', Arial, sans-serif" font-size="100" text-anchor="middle" fill="#1a1a1a">6</text>
<line x1="842" y1="664" x2="1486" y2="663" stroke="#8c8c8c" stroke-width="2" stroke-dasharray="9,8"/>
<line x1="1017" y1="779" x2="1486" y2="778" stroke="#8c8c8c" stroke-width="2" stroke-dasharray="9,8"/>
<polyline points="841.0,774.8 854.7,775.3 888.1,779.1 950.2,780.8 978.9,781.0 1008.8,778.4 1050.6,702.0 1080.0,678.0 1091.3,666.7 1102.7,664.4 1111.2,666.7 1136.7,668.9 1170.7,662.4 1216.0,657.6 1238.7,658.7 1278.4,658.7 1349.2,657.6 1388.9,652.5 1420.0,656.8 1462.5,662.4 1487.0,662.4" fill="none" stroke="#111" stroke-width="4.2" stroke-linejoin="round"/>
<line x1="860.8" y1="645.9" x2="917" y2="645.9" stroke="#111" stroke-width="3.2"/>
<text transform="matrix(0.2650,0.0000,0.0000,0.2014,922.18,652.10)" font-family="'Liberation Sans', Arial, sans-serif" font-size="100" fill="#1a1a1a">BP</text>
<line x1="1109.5" y1="669" x2="1109.5" y2="711" stroke="#222" stroke-width="1.2"/>
<line x1="1109.5" y1="743" x2="1109.5" y2="777" stroke="#222" stroke-width="1.2"/>
<polygon points="1109.5,666.7 1107,674 1112,674" fill="#222"/>
<polygon points="1109.5,778.6 1107,771 1112,771" fill="#222"/>
<text transform="matrix(0.2458,0.0000,0.0000,0.2028,1071.82,731.40)" font-family="'Liberation Sans', Arial, sans-serif" font-size="100" fill="#1a1a1a">5.9 nm</text>
<line x1="836.8" y1="855.7" x2="844.5" y2="855.7" stroke="#111" stroke-width="2"/>
<text transform="matrix(0.2563,0,0,0.2014,826.50,860.90)" font-family="'Liberation Sans', Arial, sans-serif" font-size="100" text-anchor="end" fill="#1a1a1a">2</text>
<line x1="836.8" y1="896.3" x2="844.5" y2="896.3" stroke="#111" stroke-width="2"/>
<text transform="matrix(0.2563,0,0,0.2014,826.50,901.50)" font-family="'Liberation Sans', Arial, sans-serif" font-size="100" text-anchor="end" fill="#1a1a1a">0</text>
<line x1="836.8" y1="937" x2="844.5" y2="937" stroke="#111" stroke-width="2"/>
<text transform="matrix(0.2563,0,0,0.2014,826.50,942.20)" font-family="'Liberation Sans', Arial, sans-serif" font-size="100" text-anchor="end" fill="#1a1a1a">−2</text>
<line x1="836.8" y1="979.1" x2="844.5" y2="979.1" stroke="#111" stroke-width="2"/>
<text transform="matrix(0.2563,0,0,0.2014,826.50,984.30)" font-family="'Liberation Sans', Arial, sans-serif" font-size="100" text-anchor="end" fill="#1a1a1a">−4</text>
<line x1="836.8" y1="835.8" x2="841" y2="835.8" stroke="#111" stroke-width="2"/>
<line x1="836.8" y1="876.4" x2="841" y2="876.4" stroke="#111" stroke-width="2"/>
<line x1="836.8" y1="917" x2="841" y2="917" stroke="#111" stroke-width="2"/>
<line x1="836.8" y1="957.6" x2="841" y2="957.6" stroke="#111" stroke-width="2"/>
<line x1="836.8" y1="989.3" x2="836.8" y2="982" stroke="#111" stroke-width="2"/>
<text transform="matrix(0.2733,0,0,0.2028,836.80,1010.40)" font-family="'Liberation Sans', Arial, sans-serif" font-size="100" text-anchor="middle" fill="#1a1a1a">0.0</text>
<line x1="918.2" y1="989.3" x2="918.2" y2="985" stroke="#111" stroke-width="2"/>
<line x1="999.6" y1="989.3" x2="999.6" y2="982" stroke="#111" stroke-width="2"/>
<text transform="matrix(0.2733,0,0,0.2028,999.60,1010.40)" font-family="'Liberation Sans', Arial, sans-serif" font-size="100" text-anchor="middle" fill="#1a1a1a">0.5</text>
<line x1="1081.0" y1="989.3" x2="1081.0" y2="985" stroke="#111" stroke-width="2"/>
<line x1="1162.4" y1="989.3" x2="1162.4" y2="982" stroke="#111" stroke-width="2"/>
<text transform="matrix(0.2733,0,0,0.2028,1162.40,1010.40)" font-family="'Liberation Sans', Arial, sans-serif" font-size="100" text-anchor="middle" fill="#1a1a1a">1.0</text>
<line x1="1243.8" y1="989.3" x2="1243.8" y2="985" stroke="#111" stroke-width="2"/>
<line x1="1325.2" y1="989.3" x2="1325.2" y2="982" stroke="#111" stroke-width="2"/>
<text transform="matrix(0.2733,0,0,0.2028,1325.20,1010.40)" font-family="'Liberation Sans', Arial, sans-serif" font-size="100" text-anchor="middle" fill="#1a1a1a">1.5</text>
<line x1="1406.6" y1="989.3" x2="1406.6" y2="985" stroke="#111" stroke-width="2"/>
<line x1="1488.0" y1="989.3" x2="1488.0" y2="982" stroke="#111" stroke-width="2"/>
<text transform="matrix(0.2733,0,0,0.2028,1488.00,1010.40)" font-family="'Liberation Sans', Arial, sans-serif" font-size="100" text-anchor="middle" fill="#1a1a1a">2.0</text>
<line x1="849" y1="863" x2="1486" y2="863.3" stroke="#8c8c8c" stroke-width="2" stroke-dasharray="9,8"/>
<line x1="838" y1="958.1" x2="1486" y2="957.9" stroke="#8c8c8c" stroke-width="2" stroke-dasharray="9,8"/>
<polyline points="837.5,952.6 849.9,955.7 861.8,947.4 875.0,958.1 888.1,962.2 897.7,960.0 923.9,959.3 952.6,945.7 969.3,946.6 990.8,945.5 1014.7,954.5 1038.6,960.0 1055.3,966.5 1084.0,971.3 1102.7,970.7 1116.8,957.3 1150.8,903.5 1167.8,863.8 1179.2,851.1 1193.3,861.0 1204.7,857.6 1216.0,862.4 1231.6,873.8 1255.7,855.3 1272.7,854.8 1292.5,852.5 1308.1,847.7 1323.7,853.9 1332.2,862.4 1357.7,858.7 1369.0,863.3 1391.7,861.9 1420.0,861.0 1434.2,858.7 1448.4,868.1 1471.0,869.5 1487.0,861.6" fill="none" stroke="#e41214" stroke-width="4.2" stroke-linejoin="round"/>
<line x1="848.8" y1="842" x2="906.6" y2="842" stroke="#e3151c" stroke-width="3.8"/>
<text transform="matrix(0.2746,0.0000,0.0000,0.1831,916.40,848.12)" font-family="'Liberation Sans', Arial, sans-serif" font-size="100" fill="#1a1a1a">MoS</text>
<text transform="matrix(0.1783,0.0000,0.0000,0.1100,972.11,854.10)" font-family="'Liberation Sans', Arial, sans-serif" font-size="100" fill="#1a1a1a">2</text>
<line x1="1210.4" y1="866" x2="1210.4" y2="897" stroke="#222" stroke-width="1.2"/>
<line x1="1210.4" y1="923" x2="1210.4" y2="954" stroke="#222" stroke-width="1.2"/>
<polygon points="1210.4,863.8 1207.9,871 1212.9,871" fill="#222"/>
<polygon points="1210.4,955.9 1207.9,948.5 1212.9,948.5" fill="#222"/>
<text transform="matrix(0.2714,0.0000,0.0000,0.2014,1167.76,914.40)" font-family="'Liberation Sans', Arial, sans-serif" font-size="100" fill="#1a1a1a">4.6 nm</text>
<text transform="matrix(0.0000,-0.3285,0.3138,0.0000,784.21,989.33)" font-family="'Liberation Sans', Arial, sans-serif" font-size="100" fill="#111">Height (nm)</text>
<line x1="838.6" y1="1049.1" x2="846" y2="1049.1" stroke="#111" stroke-width="2"/>
<text transform="matrix(0.2184,0,0,0.2329,829.60,1053.90)" font-family="'Liberation Sans', Arial, sans-serif" font-size="100" text-anchor="end" fill="#1a1a1a">12</text>
<line x1="838.6" y1="1086.1" x2="846" y2="1086.1" stroke="#111" stroke-width="2"/>
<text transform="matrix(0.2184,0,0,0.2329,829.60,1090.90)" font-family="'Liberation Sans', Arial, sans-serif" font-size="100" text-anchor="end" fill="#1a1a1a">8</text>
<line x1="838.6" y1="1124.7" x2="846" y2="1124.7" stroke="#111" stroke-width="2"/>
<text transform="matrix(0.2184,0,0,0.2329,829.60,1129.50)" font-family="'Liberation Sans', Arial, sans-serif" font-size="100" text-anchor="end" fill="#1a1a1a">4</text>
<line x1="838.6" y1="1162.9" x2="846" y2="1162.9" stroke="#111" stroke-width="2"/>
<text transform="matrix(0.2184,0,0,0.2329,829.60,1167.70)" font-family="'Liberation Sans', Arial, sans-serif" font-size="100" text-anchor="end" fill="#1a1a1a">0</text>
<line x1="838.6" y1="1030" x2="842.5" y2="1030" stroke="#111" stroke-width="2"/>
<line x1="838.6" y1="1067.6" x2="842.5" y2="1067.6" stroke="#111" stroke-width="2"/>
<line x1="838.6" y1="1105.6" x2="842.5" y2="1105.6" stroke="#111" stroke-width="2"/>
<line x1="838.6" y1="1143.8" x2="842.5" y2="1143.8" stroke="#111" stroke-width="2"/>
<line x1="838.6" y1="1182" x2="842.5" y2="1182" stroke="#111" stroke-width="2"/>
<line x1="838.4" y1="1190.8" x2="838.4" y2="1183" stroke="#111" stroke-width="2"/>
<text transform="matrix(0.2188,0,0,0.2366,838.40,1216.66)" font-family="'Liberation Sans', Arial, sans-serif" font-size="100" text-anchor="middle" fill="#1a1a1a">0</text>
<line x1="910.4" y1="1190.8" x2="910.4" y2="1186.5" stroke="#111" stroke-width="2"/>
<line x1="982.5" y1="1190.8" x2="982.5" y2="1183" stroke="#111" stroke-width="2"/>
<text transform="matrix(0.2188,0,0,0.2366,982.50,1216.66)" font-family="'Liberation Sans', Arial, sans-serif" font-size="100" text-anchor="middle" fill="#1a1a1a">1</text>
<line x1="1054.5" y1="1190.8" x2="1054.5" y2="1186.5" stroke="#111" stroke-width="2"/>
<line x1="1126.6" y1="1190.8" x2="1126.6" y2="1183" stroke="#111" stroke-width="2"/>
<text transform="matrix(0.2188,0,0,0.2366,1126.60,1216.66)" font-family="'Liberation Sans', Arial, sans-serif" font-size="100" text-anchor="middle" fill="#1a1a1a">2</text>
<line x1="1198.6" y1="1190.8" x2="1198.6" y2="1186.5" stroke="#111" stroke-width="2"/>
<line x1="1270.7" y1="1190.8" x2="1270.7" y2="1183" stroke="#111" stroke-width="2"/>
<text transform="matrix(0.2188,0,0,0.2366,1270.70,1216.66)" font-family="'Liberation Sans', Arial, sans-serif" font-size="100" text-anchor="middle" fill="#1a1a1a">3</text>
<line x1="1342.7" y1="1190.8" x2="1342.7" y2="1186.5" stroke="#111" stroke-width="2"/>
<line x1="1414.8" y1="1190.8" x2="1414.8" y2="1183" stroke="#111" stroke-width="2"/>
<text transform="matrix(0.2188,0,0,0.2366,1414.80,1216.66)" font-family="'Liberation Sans', Arial, sans-serif" font-size="100" text-anchor="middle" fill="#1a1a1a">4</text>
<line x1="1486.8" y1="1190.8" x2="1486.8" y2="1186.5" stroke="#111" stroke-width="2"/>
<line x1="841" y1="1065.4" x2="1486" y2="1065.3" stroke="#111" stroke-width="2.6" stroke-dasharray="10,9"/>
<line x1="841" y1="1167" x2="1486" y2="1166.4" stroke="#111" stroke-width="2.6" stroke-dasharray="10,9"/>
<polyline points="839.0,1078.1 845.1,1076.4 869.0,1067.3 885.7,1060.2 904.8,1063.0 928.7,1075.0 939.5,1063.0 953.8,1073.3 976.5,1074.5 986.1,1072.6 996.8,1063.8 1007.6,1059.5 1019.5,1064.5 1036.2,1067.3 1050.6,1066.1 1064.9,1075.0 1080.0,1076.6 1097.0,1080.8 1108.3,1072.3 1119.7,1070.1 1131.0,1078.0 1145.2,1066.7 1155.1,1068.1 1165.0,1083.7 1190.5,1129.0 1210.3,1165.9 1224.5,1166.4 1238.7,1164.4 1261.4,1164.4 1278.4,1167.3 1301.0,1164.4 1329.4,1163.0 1357.7,1157.9 1380.4,1157.9 1391.7,1160.2 1405.9,1155.9 1425.7,1158.8 1445.5,1160.2 1459.7,1155.9 1473.9,1154.0 1487.0,1150.3" fill="none" stroke="#3e499c" stroke-width="5" stroke-linejoin="round"/>
<line x1="852.5" y1="1037.1" x2="902.1" y2="1037.1" stroke="#3e499c" stroke-width="5"/>
<text transform="matrix(0.2291,0.0000,0.0000,0.2324,910.07,1045.17)" font-family="'Liberation Sans', Arial, sans-serif" font-size="100" fill="#111">BP/MoS</text>
<text transform="matrix(0.1587,0.0000,0.0000,0.1657,994.31,1050.80)" font-family="'Liberation Sans', Arial, sans-serif" font-size="100" fill="#111">2</text>
<text transform="matrix(0.2292,0.0000,0.0000,0.2270,1009.20,1044.77)" font-family="'Liberation Sans', Arial, sans-serif" font-size="100" fill="#111">heterostructure</text>
<line x1="1010.7" y1="1069" x2="1010.7" y2="1107" stroke="#222" stroke-width="1.2"/>
<line x1="1010.7" y1="1128.4" x2="1010.7" y2="1164" stroke="#222" stroke-width="1.2"/>
<polygon points="1010.7,1067.3 1008.2,1075 1013.2,1075" fill="#222"/>
<polygon points="1010.7,1166.5 1008.2,1159 1013.2,1159" fill="#222"/>
<text transform="matrix(0.2262,0.0000,0.0000,0.2394,970.79,1124.96)" font-family="'Liberation Sans', Arial, sans-serif" font-size="100" fill="#111">10.5 nm</text>
<text transform="matrix(0.3472,0.0000,0.0000,0.3149,1082.82,1245.69)" font-family="'Liberation Sans', Arial, sans-serif" font-size="100" fill="#111">Position</text>
<text transform="matrix(0.3323,0.0000,0.0000,0.2670,1213.91,1246.29)" font-family="'Liberation Sans', Arial, sans-serif" font-size="100" fill="#111">(μm)</text>
</svg></body></html>
